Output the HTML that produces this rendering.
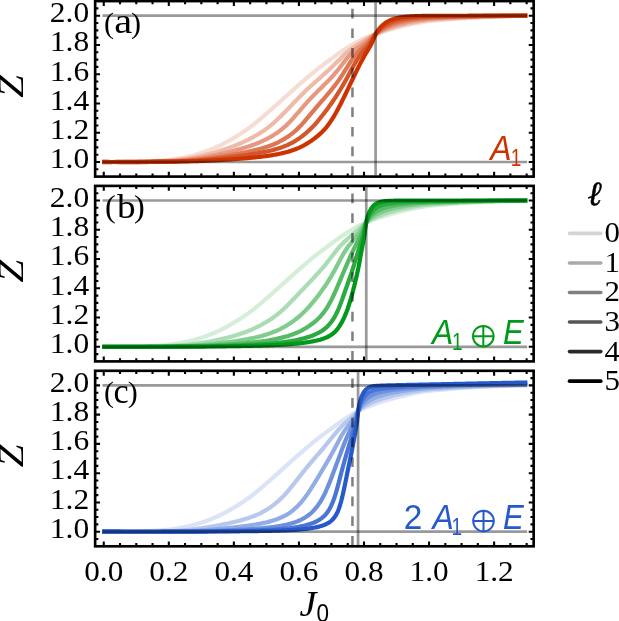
<!DOCTYPE html>
<html lang="en"><head><meta charset="utf-8"><title>Z vs J0</title>
<style>
html,body{margin:0;padding:0;background:#fff}
body{width:619px;height:621px;overflow:hidden}
svg{display:block}
text{font-family:"Liberation Serif",serif}
.tk{font-size:29.7px}
.ax{font-size:36.3px;font-style:italic}
.sub0{font-family:"Liberation Sans",sans-serif;font-size:25px}
.pl{}
.si{font-family:"Liberation Sans",sans-serif;font-style:italic;font-size:35.2px}
.sr{font-family:"Liberation Sans",sans-serif;font-size:35.2px}
.ss{font-family:"Liberation Sans",sans-serif;font-size:23px}
.ell{font-size:34px;font-style:italic;stroke:#000;stroke-width:0.5px}
</style></head>
<body>
<svg width="619" height="621" viewBox="0 0 619 621">
<rect width="619" height="621" fill="#fff"/>
<g id="panel-a">
<path d="M102.25,162.00 L103.75,162.00 L104.81,162.00 L105.87,162.00 L106.93,162.00 L107.99,162.00 L109.05,161.99 L110.11,161.99 L111.17,161.99 L112.23,161.99 L113.29,161.98 L114.35,161.98 L115.41,161.97 L116.47,161.97 L117.53,161.97 L118.59,161.96 L119.65,161.96 L120.71,161.95 L121.77,161.95 L122.83,161.94 L123.89,161.93 L124.95,161.92 L126.01,161.92 L127.07,161.90 L128.13,161.89 L129.19,161.88 L130.25,161.87 L131.31,161.85 L132.37,161.84 L133.43,161.83 L134.49,161.81 L135.55,161.79 L136.61,161.77 L137.67,161.75 L138.73,161.73 L139.79,161.70 L140.85,161.67 L141.91,161.64 L142.97,161.61 L144.03,161.57 L145.09,161.53 L146.14,161.49 L147.20,161.44 L148.26,161.40 L149.32,161.35 L150.38,161.30 L151.44,161.25 L152.50,161.20 L153.56,161.14 L154.62,161.08 L155.68,161.02 L156.74,160.95 L157.80,160.87 L158.86,160.80 L159.92,160.71 L160.98,160.63 L162.04,160.54 L163.10,160.44 L164.16,160.35 L165.22,160.25 L166.28,160.14 L167.34,160.03 L168.40,159.92 L169.46,159.81 L170.52,159.68 L171.58,159.55 L172.64,159.41 L173.70,159.27 L174.76,159.11 L175.82,158.95 L176.88,158.78 L177.94,158.61 L179.00,158.43 L180.06,158.24 L181.12,158.05 L182.18,157.85 L183.24,157.65 L184.30,157.44 L185.36,157.23 L186.42,157.01 L187.48,156.78 L188.54,156.53 L189.60,156.28 L190.66,156.02 L191.72,155.74 L192.78,155.46 L193.84,155.17 L194.90,154.87 L195.96,154.56 L197.02,154.25 L198.08,153.93 L199.14,153.61 L200.20,153.28 L201.26,152.94 L202.32,152.60 L203.38,152.24 L204.44,151.88 L205.50,151.51 L206.56,151.12 L207.62,150.72 L208.68,150.32 L209.74,149.90 L210.80,149.48 L211.86,149.05 L212.92,148.61 L213.98,148.16 L215.04,147.70 L216.10,147.24 L217.16,146.77 L218.22,146.29 L219.28,145.79 L220.34,145.29 L221.40,144.77 L222.46,144.23 L223.52,143.69 L224.58,143.13 L225.64,142.56 L226.70,141.99 L227.76,141.40 L228.82,140.81 L229.88,140.21 L230.93,139.60 L231.99,138.99 L233.05,138.37 L234.11,137.75 L235.17,137.11 L236.23,136.47 L237.29,135.83 L238.35,135.17 L239.41,134.50 L240.47,133.82 L241.53,133.13 L242.59,132.44 L243.65,131.73 L244.71,131.01 L245.77,130.29 L246.83,129.55 L247.89,128.80 L248.95,128.04 L250.01,127.27 L251.07,126.48 L252.13,125.68 L253.19,124.85 L254.25,124.01 L255.31,123.16 L256.37,122.29 L257.43,121.41 L258.49,120.51 L259.55,119.61 L260.61,118.71 L261.67,117.80 L262.73,116.88 L263.79,115.97 L264.85,115.05 L265.91,114.14 L266.97,113.23 L268.03,112.31 L269.09,111.39 L270.15,110.46 L271.21,109.52 L272.27,108.58 L273.33,107.63 L274.39,106.68 L275.45,105.73 L276.51,104.77 L277.57,103.82 L278.63,102.87 L279.69,101.91 L280.75,100.96 L281.81,100.01 L282.87,99.07 L283.93,98.13 L284.99,97.18 L286.05,96.23 L287.11,95.28 L288.17,94.33 L289.23,93.38 L290.29,92.43 L291.35,91.48 L292.41,90.53 L293.47,89.59 L294.53,88.65 L295.59,87.71 L296.65,86.78 L297.71,85.85 L298.77,84.92 L299.83,84.00 L300.89,83.08 L301.95,82.16 L303.01,81.24 L304.07,80.33 L305.13,79.41 L306.19,78.50 L307.25,77.59 L308.31,76.69 L309.37,75.79 L310.43,74.90 L311.49,74.02 L312.55,73.15 L313.61,72.28 L314.67,71.43 L315.72,70.58 L316.78,69.74 L317.84,68.91 L318.90,68.09 L319.96,67.28 L321.02,66.47 L322.08,65.66 L323.14,64.87 L324.20,64.07 L325.26,63.28 L326.32,62.50 L327.38,61.72 L328.44,60.95 L329.50,60.17 L330.56,59.41 L331.62,58.64 L332.68,57.87 L333.74,57.10 L334.80,56.33 L335.86,55.56 L336.92,54.79 L337.98,54.03 L339.04,53.27 L340.10,52.52 L341.16,51.78 L342.22,51.04 L343.28,50.32 L344.34,49.61 L345.40,48.91 L346.46,48.24 L347.52,47.57 L348.58,46.92 L349.64,46.28 L350.70,45.64 L351.76,45.00 L352.82,44.38 L353.88,43.76 L354.94,43.15 L356.00,42.56 L357.06,41.97 L358.12,41.40 L359.18,40.84 L360.24,40.30 L361.30,39.77 L362.36,39.27 L363.42,38.78 L364.48,38.31 L365.54,37.85 L366.60,37.41 L367.66,36.98 L368.72,36.57 L369.78,36.16 L370.84,35.76 L371.90,35.37 L372.96,34.99 L374.02,34.62 L375.08,34.25 L376.14,33.89 L377.20,33.53 L378.26,33.18 L379.32,32.83 L380.38,32.48 L381.44,32.14 L382.50,31.80 L383.56,31.47 L384.62,31.14 L385.68,30.82 L386.74,30.50 L387.80,30.19 L388.86,29.88 L389.92,29.58 L390.98,29.28 L392.04,28.98 L393.10,28.69 L394.16,28.40 L395.22,28.12 L396.28,27.83 L397.34,27.56 L398.40,27.28 L399.46,27.01 L400.51,26.73 L401.57,26.46 L402.63,26.20 L403.69,25.94 L404.75,25.68 L405.81,25.42 L406.87,25.17 L407.93,24.93 L408.99,24.69 L410.05,24.46 L411.11,24.23 L412.17,24.02 L413.23,23.80 L414.29,23.59 L415.35,23.38 L416.41,23.18 L417.47,22.97 L418.53,22.77 L419.59,22.58 L420.65,22.38 L421.71,22.20 L422.77,22.02 L423.83,21.85 L424.89,21.68 L425.95,21.52 L427.01,21.37 L428.07,21.23 L429.13,21.10 L430.19,20.98 L431.25,20.87 L432.31,20.76 L433.37,20.65 L434.43,20.55 L435.49,20.46 L436.55,20.36 L437.61,20.27 L438.67,20.19 L439.73,20.10 L440.79,20.01 L441.85,19.93 L442.91,19.85 L443.97,19.76 L445.03,19.67 L446.09,19.59 L447.15,19.50 L448.21,19.41 L449.27,19.33 L450.33,19.24 L451.39,19.16 L452.45,19.07 L453.51,18.99 L454.57,18.91 L455.63,18.83 L456.69,18.75 L457.75,18.67 L458.81,18.60 L459.87,18.52 L460.93,18.45 L461.99,18.38 L463.05,18.31 L464.11,18.24 L465.17,18.18 L466.23,18.11 L467.29,18.04 L468.35,17.98 L469.41,17.92 L470.47,17.86 L471.53,17.80 L472.59,17.74 L473.65,17.68 L474.71,17.62 L475.77,17.56 L476.83,17.51 L477.89,17.45 L478.95,17.40 L480.01,17.35 L481.07,17.30 L482.13,17.25 L483.19,17.20 L484.25,17.15 L485.30,17.10 L486.36,17.05 L487.42,17.00 L488.48,16.96 L489.54,16.91 L490.60,16.87 L491.66,16.82 L492.72,16.78 L493.78,16.74 L494.84,16.69 L495.90,16.65 L496.96,16.61 L498.02,16.57 L499.08,16.53 L500.14,16.49 L501.20,16.45 L502.26,16.41 L503.32,16.37 L504.38,16.33 L505.44,16.29 L506.50,16.26 L507.56,16.22 L508.62,16.19 L509.68,16.16 L510.74,16.13 L511.80,16.10 L512.86,16.07 L513.92,16.04 L514.98,16.00 L516.04,15.97 L517.10,15.94 L518.16,15.91 L519.22,15.89 L520.28,15.86 L521.34,15.84 L522.40,15.82 L523.46,15.80 L524.52,15.79 L525.58,15.78 L526.64,15.77 L527.24,15.77" fill="none" stroke="#f6ddd4" stroke-width="4.2" stroke-linecap="butt" stroke-linejoin="round"/>
<path d="M102.25,161.96 L103.75,161.96 L104.81,161.97 L105.87,161.97 L106.93,161.97 L107.99,161.98 L109.05,161.98 L110.11,161.98 L111.17,161.98 L112.23,161.98 L113.29,161.98 L114.35,161.98 L115.41,161.98 L116.47,161.98 L117.53,161.98 L118.59,161.98 L119.65,161.98 L120.71,161.98 L121.77,161.98 L122.83,161.98 L123.89,161.97 L124.95,161.97 L126.01,161.97 L127.07,161.96 L128.13,161.96 L129.19,161.95 L130.25,161.95 L131.31,161.94 L132.37,161.93 L133.43,161.92 L134.49,161.91 L135.55,161.90 L136.61,161.89 L137.67,161.88 L138.73,161.87 L139.79,161.85 L140.85,161.84 L141.91,161.82 L142.97,161.81 L144.03,161.79 L145.09,161.77 L146.14,161.74 L147.20,161.71 L148.26,161.68 L149.32,161.65 L150.38,161.62 L151.44,161.58 L152.50,161.54 L153.56,161.50 L154.62,161.46 L155.68,161.42 L156.74,161.37 L157.80,161.33 L158.86,161.28 L159.92,161.23 L160.98,161.18 L162.04,161.12 L163.10,161.06 L164.16,160.99 L165.22,160.92 L166.28,160.85 L167.34,160.77 L168.40,160.69 L169.46,160.61 L170.52,160.52 L171.58,160.43 L172.64,160.33 L173.70,160.24 L174.76,160.14 L175.82,160.03 L176.88,159.93 L177.94,159.82 L179.00,159.70 L180.06,159.57 L181.12,159.44 L182.18,159.30 L183.24,159.16 L184.30,159.01 L185.36,158.85 L186.42,158.69 L187.48,158.53 L188.54,158.35 L189.60,158.18 L190.66,158.00 L191.72,157.82 L192.78,157.63 L193.84,157.44 L194.90,157.25 L195.96,157.05 L197.02,156.84 L198.08,156.62 L199.14,156.39 L200.20,156.16 L201.26,155.92 L202.32,155.67 L203.38,155.42 L204.44,155.16 L205.50,154.90 L206.56,154.63 L207.62,154.36 L208.68,154.09 L209.74,153.81 L210.80,153.53 L211.86,153.24 L212.92,152.96 L213.98,152.66 L215.04,152.37 L216.10,152.06 L217.16,151.75 L218.22,151.43 L219.28,151.11 L220.34,150.77 L221.40,150.44 L222.46,150.09 L223.52,149.75 L224.58,149.39 L225.64,149.03 L226.70,148.66 L227.76,148.29 L228.82,147.92 L229.88,147.54 L230.93,147.15 L231.99,146.76 L233.05,146.36 L234.11,145.95 L235.17,145.54 L236.23,145.11 L237.29,144.67 L238.35,144.22 L239.41,143.77 L240.47,143.30 L241.53,142.83 L242.59,142.34 L243.65,141.85 L244.71,141.35 L245.77,140.84 L246.83,140.32 L247.89,139.80 L248.95,139.26 L250.01,138.72 L251.07,138.17 L252.13,137.62 L253.19,137.05 L254.25,136.47 L255.31,135.88 L256.37,135.28 L257.43,134.66 L258.49,134.03 L259.55,133.38 L260.61,132.72 L261.67,132.05 L262.73,131.35 L263.79,130.64 L264.85,129.91 L265.91,129.16 L266.97,128.39 L268.03,127.60 L269.09,126.79 L270.15,125.95 L271.21,125.08 L272.27,124.18 L273.33,123.25 L274.39,122.30 L275.45,121.32 L276.51,120.33 L277.57,119.32 L278.63,118.29 L279.69,117.26 L280.75,116.21 L281.81,115.16 L282.87,114.11 L283.93,113.06 L284.99,111.99 L286.05,110.91 L287.11,109.82 L288.17,108.72 L289.23,107.61 L290.29,106.50 L291.35,105.39 L292.41,104.28 L293.47,103.16 L294.53,102.06 L295.59,100.95 L296.65,99.86 L297.71,98.77 L298.77,97.69 L299.83,96.62 L300.89,95.54 L301.95,94.48 L303.01,93.42 L304.07,92.38 L305.13,91.35 L306.19,90.33 L307.25,89.32 L308.31,88.33 L309.37,87.35 L310.43,86.39 L311.49,85.43 L312.55,84.49 L313.61,83.54 L314.67,82.60 L315.72,81.66 L316.78,80.73 L317.84,79.79 L318.90,78.84 L319.96,77.90 L321.02,76.95 L322.08,76.01 L323.14,75.05 L324.20,74.10 L325.26,73.14 L326.32,72.17 L327.38,71.20 L328.44,70.23 L329.50,69.25 L330.56,68.25 L331.62,67.25 L332.68,66.23 L333.74,65.20 L334.80,64.16 L335.86,63.11 L336.92,62.07 L337.98,61.02 L339.04,59.97 L340.10,58.93 L341.16,57.89 L342.22,56.85 L343.28,55.82 L344.34,54.81 L345.40,53.81 L346.46,52.85 L347.52,51.91 L348.58,51.02 L349.64,50.16 L350.70,49.34 L351.76,48.56 L352.82,47.81 L353.88,47.09 L354.94,46.38 L356.00,45.68 L357.06,44.99 L358.12,44.30 L359.18,43.62 L360.24,42.94 L361.30,42.27 L362.36,41.60 L363.42,40.93 L364.48,40.27 L365.54,39.61 L366.60,38.97 L367.66,38.34 L368.72,37.73 L369.78,37.14 L370.84,36.55 L371.90,35.99 L372.96,35.43 L374.02,34.88 L375.08,34.35 L376.14,33.82 L377.20,33.33 L378.26,32.86 L379.32,32.40 L380.38,31.95 L381.44,31.51 L382.50,31.08 L383.56,30.67 L384.62,30.27 L385.68,29.87 L386.74,29.49 L387.80,29.12 L388.86,28.76 L389.92,28.41 L390.98,28.06 L392.04,27.73 L393.10,27.40 L394.16,27.08 L395.22,26.77 L396.28,26.47 L397.34,26.17 L398.40,25.88 L399.46,25.59 L400.51,25.31 L401.57,25.04 L402.63,24.77 L403.69,24.51 L404.75,24.25 L405.81,24.00 L406.87,23.76 L407.93,23.52 L408.99,23.29 L410.05,23.07 L411.11,22.85 L412.17,22.65 L413.23,22.45 L414.29,22.25 L415.35,22.06 L416.41,21.87 L417.47,21.68 L418.53,21.50 L419.59,21.32 L420.65,21.15 L421.71,20.99 L422.77,20.83 L423.83,20.67 L424.89,20.53 L425.95,20.39 L427.01,20.26 L428.07,20.14 L429.13,20.02 L430.19,19.92 L431.25,19.82 L432.31,19.72 L433.37,19.63 L434.43,19.54 L435.49,19.46 L436.55,19.38 L437.61,19.30 L438.67,19.23 L439.73,19.15 L440.79,19.08 L441.85,19.01 L442.91,18.94 L443.97,18.87 L445.03,18.79 L446.09,18.72 L447.15,18.65 L448.21,18.58 L449.27,18.51 L450.33,18.44 L451.39,18.37 L452.45,18.30 L453.51,18.24 L454.57,18.17 L455.63,18.11 L456.69,18.04 L457.75,17.98 L458.81,17.92 L459.87,17.86 L460.93,17.80 L461.99,17.75 L463.05,17.69 L464.11,17.64 L465.17,17.59 L466.23,17.54 L467.29,17.48 L468.35,17.43 L469.41,17.39 L470.47,17.34 L471.53,17.29 L472.59,17.24 L473.65,17.20 L474.71,17.15 L475.77,17.11 L476.83,17.07 L477.89,17.03 L478.95,16.98 L480.01,16.94 L481.07,16.90 L482.13,16.87 L483.19,16.83 L484.25,16.79 L485.30,16.75 L486.36,16.72 L487.42,16.68 L488.48,16.65 L489.54,16.61 L490.60,16.58 L491.66,16.54 L492.72,16.51 L493.78,16.48 L494.84,16.45 L495.90,16.41 L496.96,16.38 L498.02,16.35 L499.08,16.32 L500.14,16.29 L501.20,16.26 L502.26,16.23 L503.32,16.20 L504.38,16.17 L505.44,16.14 L506.50,16.12 L507.56,16.09 L508.62,16.07 L509.68,16.04 L510.74,16.02 L511.80,16.00 L512.86,15.97 L513.92,15.95 L514.98,15.93 L516.04,15.90 L517.10,15.88 L518.16,15.86 L519.22,15.84 L520.28,15.82 L521.34,15.80 L522.40,15.79 L523.46,15.78 L524.52,15.77 L525.58,15.76 L526.64,15.75 L527.24,15.75" fill="none" stroke="#eebbaa" stroke-width="4.2" stroke-linecap="butt" stroke-linejoin="round"/>
<path d="M102.25,161.92 L103.75,161.92 L104.81,161.93 L105.87,161.94 L106.93,161.95 L107.99,161.96 L109.05,161.98 L110.11,161.99 L111.17,162.00 L112.23,162.00 L113.29,162.01 L114.35,162.02 L115.41,162.03 L116.47,162.03 L117.53,162.04 L118.59,162.05 L119.65,162.05 L120.71,162.06 L121.77,162.06 L122.83,162.06 L123.89,162.07 L124.95,162.07 L126.01,162.07 L127.07,162.07 L128.13,162.07 L129.19,162.07 L130.25,162.07 L131.31,162.07 L132.37,162.07 L133.43,162.07 L134.49,162.06 L135.55,162.06 L136.61,162.05 L137.67,162.04 L138.73,162.03 L139.79,162.03 L140.85,162.02 L141.91,162.01 L142.97,161.99 L144.03,161.98 L145.09,161.97 L146.14,161.95 L147.20,161.94 L148.26,161.92 L149.32,161.91 L150.38,161.88 L151.44,161.86 L152.50,161.84 L153.56,161.81 L154.62,161.78 L155.68,161.74 L156.74,161.71 L157.80,161.67 L158.86,161.63 L159.92,161.59 L160.98,161.55 L162.04,161.50 L163.10,161.46 L164.16,161.41 L165.22,161.36 L166.28,161.31 L167.34,161.26 L168.40,161.20 L169.46,161.14 L170.52,161.08 L171.58,161.01 L172.64,160.94 L173.70,160.87 L174.76,160.79 L175.82,160.71 L176.88,160.63 L177.94,160.54 L179.00,160.45 L180.06,160.36 L181.12,160.26 L182.18,160.16 L183.24,160.06 L184.30,159.96 L185.36,159.85 L186.42,159.75 L187.48,159.63 L188.54,159.51 L189.60,159.38 L190.66,159.25 L191.72,159.11 L192.78,158.97 L193.84,158.82 L194.90,158.67 L195.96,158.52 L197.02,158.36 L198.08,158.20 L199.14,158.03 L200.20,157.87 L201.26,157.70 L202.32,157.53 L203.38,157.35 L204.44,157.17 L205.50,157.00 L206.56,156.81 L207.62,156.62 L208.68,156.43 L209.74,156.23 L210.80,156.02 L211.86,155.81 L212.92,155.60 L213.98,155.38 L215.04,155.16 L216.10,154.93 L217.16,154.70 L218.22,154.47 L219.28,154.24 L220.34,154.00 L221.40,153.76 L222.46,153.52 L223.52,153.28 L224.58,153.04 L225.64,152.79 L226.70,152.55 L227.76,152.30 L228.82,152.05 L229.88,151.79 L230.93,151.52 L231.99,151.26 L233.05,150.98 L234.11,150.71 L235.17,150.43 L236.23,150.14 L237.29,149.85 L238.35,149.55 L239.41,149.25 L240.47,148.95 L241.53,148.64 L242.59,148.32 L243.65,148.00 L244.71,147.68 L245.77,147.35 L246.83,147.01 L247.89,146.67 L248.95,146.32 L250.01,145.97 L251.07,145.61 L252.13,145.24 L253.19,144.85 L254.25,144.46 L255.31,144.05 L256.37,143.64 L257.43,143.21 L258.49,142.77 L259.55,142.32 L260.61,141.86 L261.67,141.38 L262.73,140.89 L263.79,140.39 L264.85,139.87 L265.91,139.34 L266.97,138.79 L268.03,138.24 L269.09,137.66 L270.15,137.07 L271.21,136.47 L272.27,135.84 L273.33,135.20 L274.39,134.54 L275.45,133.85 L276.51,133.14 L277.57,132.41 L278.63,131.66 L279.69,130.88 L280.75,130.07 L281.81,129.24 L282.87,128.37 L283.93,127.48 L284.99,126.56 L286.05,125.60 L287.11,124.60 L288.17,123.55 L289.23,122.47 L290.29,121.36 L291.35,120.21 L292.41,119.05 L293.47,117.86 L294.53,116.66 L295.59,115.45 L296.65,114.23 L297.71,113.03 L298.77,111.82 L299.83,110.60 L300.89,109.37 L301.95,108.15 L303.01,106.92 L304.07,105.70 L305.13,104.49 L306.19,103.30 L307.25,102.12 L308.31,100.95 L309.37,99.81 L310.43,98.68 L311.49,97.56 L312.55,96.46 L313.61,95.36 L314.67,94.28 L315.72,93.20 L316.78,92.13 L317.84,91.07 L318.90,90.01 L319.96,88.97 L321.02,87.93 L322.08,86.90 L323.14,85.87 L324.20,84.84 L325.26,83.81 L326.32,82.77 L327.38,81.71 L328.44,80.63 L329.50,79.53 L330.56,78.40 L331.62,77.25 L332.68,76.07 L333.74,74.85 L334.80,73.61 L335.86,72.35 L336.92,71.07 L337.98,69.77 L339.04,68.44 L340.10,67.10 L341.16,65.73 L342.22,64.36 L343.28,62.97 L344.34,61.60 L345.40,60.25 L346.46,58.92 L347.52,57.64 L348.58,56.38 L349.64,55.17 L350.70,54.01 L351.76,52.90 L352.82,51.85 L353.88,50.86 L354.94,49.93 L356.00,49.04 L357.06,48.20 L358.12,47.39 L359.18,46.61 L360.24,45.84 L361.30,45.06 L362.36,44.28 L363.42,43.49 L364.48,42.68 L365.54,41.85 L366.60,41.00 L367.66,40.14 L368.72,39.28 L369.78,38.42 L370.84,37.59 L371.90,36.78 L372.96,35.98 L374.02,35.20 L375.08,34.45 L376.14,33.73 L377.20,33.06 L378.26,32.43 L379.32,31.82 L380.38,31.23 L381.44,30.67 L382.50,30.13 L383.56,29.62 L384.62,29.12 L385.68,28.65 L386.74,28.19 L387.80,27.75 L388.86,27.33 L389.92,26.93 L390.98,26.54 L392.04,26.17 L393.10,25.81 L394.16,25.47 L395.22,25.13 L396.28,24.81 L397.34,24.50 L398.40,24.20 L399.46,23.91 L400.51,23.63 L401.57,23.36 L402.63,23.10 L403.69,22.84 L404.75,22.60 L405.81,22.36 L406.87,22.13 L407.93,21.91 L408.99,21.70 L410.05,21.50 L411.11,21.30 L412.17,21.12 L413.23,20.94 L414.29,20.77 L415.35,20.60 L416.41,20.44 L417.47,20.28 L418.53,20.12 L419.59,19.97 L420.65,19.83 L421.71,19.69 L422.77,19.56 L423.83,19.43 L424.89,19.31 L425.95,19.20 L427.01,19.09 L428.07,18.99 L429.13,18.90 L430.19,18.81 L431.25,18.73 L432.31,18.66 L433.37,18.58 L434.43,18.51 L435.49,18.45 L436.55,18.38 L437.61,18.32 L438.67,18.26 L439.73,18.21 L440.79,18.15 L441.85,18.09 L442.91,18.04 L443.97,17.98 L445.03,17.93 L446.09,17.87 L447.15,17.82 L448.21,17.77 L449.27,17.71 L450.33,17.66 L451.39,17.61 L452.45,17.56 L453.51,17.51 L454.57,17.46 L455.63,17.42 L456.69,17.37 L457.75,17.32 L458.81,17.28 L459.87,17.24 L460.93,17.19 L461.99,17.15 L463.05,17.11 L464.11,17.08 L465.17,17.04 L466.23,17.00 L467.29,16.96 L468.35,16.93 L469.41,16.89 L470.47,16.86 L471.53,16.82 L472.59,16.79 L473.65,16.76 L474.71,16.73 L475.77,16.69 L476.83,16.66 L477.89,16.63 L478.95,16.61 L480.01,16.58 L481.07,16.55 L482.13,16.52 L483.19,16.49 L484.25,16.47 L485.30,16.44 L486.36,16.42 L487.42,16.39 L488.48,16.37 L489.54,16.34 L490.60,16.32 L491.66,16.29 L492.72,16.27 L493.78,16.25 L494.84,16.22 L495.90,16.20 L496.96,16.18 L498.02,16.16 L499.08,16.13 L500.14,16.11 L501.20,16.09 L502.26,16.07 L503.32,16.05 L504.38,16.03 L505.44,16.01 L506.50,15.99 L507.56,15.97 L508.62,15.96 L509.68,15.94 L510.74,15.92 L511.80,15.91 L512.86,15.89 L513.92,15.88 L514.98,15.86 L516.04,15.84 L517.10,15.83 L518.16,15.81 L519.22,15.80 L520.28,15.78 L521.34,15.77 L522.40,15.76 L523.46,15.75 L524.52,15.75 L525.58,15.74 L526.64,15.74 L527.24,15.74" fill="none" stroke="#e69980" stroke-width="4.2" stroke-linecap="butt" stroke-linejoin="round"/>
<path d="M102.25,161.99 L103.75,161.99 L104.81,161.99 L105.87,162.00 L106.93,162.00 L107.99,162.00 L109.05,162.00 L110.11,162.01 L111.17,162.01 L112.23,162.01 L113.29,162.01 L114.35,162.01 L115.41,162.01 L116.47,162.01 L117.53,162.01 L118.59,162.02 L119.65,162.01 L120.71,162.01 L121.77,162.01 L122.83,162.01 L123.89,162.01 L124.95,162.01 L126.01,162.01 L127.07,162.01 L128.13,162.01 L129.19,162.00 L130.25,162.00 L131.31,162.00 L132.37,162.00 L133.43,161.99 L134.49,161.99 L135.55,161.98 L136.61,161.98 L137.67,161.97 L138.73,161.97 L139.79,161.96 L140.85,161.95 L141.91,161.94 L142.97,161.93 L144.03,161.92 L145.09,161.92 L146.14,161.90 L147.20,161.89 L148.26,161.88 L149.32,161.87 L150.38,161.86 L151.44,161.84 L152.50,161.83 L153.56,161.81 L154.62,161.80 L155.68,161.78 L156.74,161.76 L157.80,161.74 L158.86,161.72 L159.92,161.69 L160.98,161.66 L162.04,161.64 L163.10,161.60 L164.16,161.57 L165.22,161.54 L166.28,161.50 L167.34,161.46 L168.40,161.43 L169.46,161.38 L170.52,161.34 L171.58,161.30 L172.64,161.26 L173.70,161.21 L174.76,161.17 L175.82,161.12 L176.88,161.07 L177.94,161.01 L179.00,160.95 L180.06,160.89 L181.12,160.83 L182.18,160.76 L183.24,160.69 L184.30,160.62 L185.36,160.55 L186.42,160.47 L187.48,160.39 L188.54,160.31 L189.60,160.23 L190.66,160.14 L191.72,160.05 L192.78,159.96 L193.84,159.87 L194.90,159.78 L195.96,159.69 L197.02,159.59 L198.08,159.48 L199.14,159.37 L200.20,159.26 L201.26,159.14 L202.32,159.03 L203.38,158.90 L204.44,158.78 L205.50,158.65 L206.56,158.52 L207.62,158.39 L208.68,158.25 L209.74,158.12 L210.80,157.98 L211.86,157.84 L212.92,157.70 L213.98,157.56 L215.04,157.42 L216.10,157.27 L217.16,157.13 L218.22,156.98 L219.28,156.83 L220.34,156.68 L221.40,156.52 L222.46,156.36 L223.52,156.20 L224.58,156.03 L225.64,155.86 L226.70,155.69 L227.76,155.51 L228.82,155.33 L229.88,155.15 L230.93,154.97 L231.99,154.79 L233.05,154.60 L234.11,154.41 L235.17,154.23 L236.23,154.03 L237.29,153.84 L238.35,153.64 L239.41,153.45 L240.47,153.25 L241.53,153.05 L242.59,152.85 L243.65,152.64 L244.71,152.44 L245.77,152.22 L246.83,152.01 L247.89,151.79 L248.95,151.56 L250.01,151.33 L251.07,151.09 L252.13,150.85 L253.19,150.61 L254.25,150.36 L255.31,150.10 L256.37,149.83 L257.43,149.56 L258.49,149.29 L259.55,149.00 L260.61,148.71 L261.67,148.41 L262.73,148.10 L263.79,147.79 L264.85,147.46 L265.91,147.13 L266.97,146.79 L268.03,146.43 L269.09,146.07 L270.15,145.69 L271.21,145.29 L272.27,144.88 L273.33,144.45 L274.39,144.01 L275.45,143.54 L276.51,143.06 L277.57,142.56 L278.63,142.04 L279.69,141.50 L280.75,140.94 L281.81,140.36 L282.87,139.76 L283.93,139.13 L284.99,138.49 L286.05,137.82 L287.11,137.13 L288.17,136.42 L289.23,135.68 L290.29,134.91 L291.35,134.11 L292.41,133.28 L293.47,132.42 L294.53,131.53 L295.59,130.60 L296.65,129.64 L297.71,128.65 L298.77,127.62 L299.83,126.56 L300.89,125.46 L301.95,124.31 L303.01,123.12 L304.07,121.90 L305.13,120.66 L306.19,119.41 L307.25,118.14 L308.31,116.88 L309.37,115.62 L310.43,114.36 L311.49,113.12 L312.55,111.88 L313.61,110.63 L314.67,109.38 L315.72,108.13 L316.78,106.88 L317.84,105.64 L318.90,104.40 L319.96,103.17 L321.02,101.94 L322.08,100.73 L323.14,99.51 L324.20,98.31 L325.26,97.09 L326.32,95.87 L327.38,94.64 L328.44,93.39 L329.50,92.13 L330.56,90.86 L331.62,89.57 L332.68,88.26 L333.74,86.93 L334.80,85.57 L335.86,84.20 L336.92,82.79 L337.98,81.34 L339.04,79.84 L340.10,78.29 L341.16,76.69 L342.22,75.04 L343.28,73.36 L344.34,71.66 L345.40,69.95 L346.46,68.23 L347.52,66.52 L348.58,64.83 L349.64,63.18 L350.70,61.58 L351.76,60.04 L352.82,58.56 L353.88,57.15 L354.94,55.79 L356.00,54.50 L357.06,53.27 L358.12,52.11 L359.18,51.01 L360.24,49.96 L361.30,48.95 L362.36,47.98 L363.42,47.03 L364.48,46.06 L365.54,45.06 L366.60,44.02 L367.66,42.94 L368.72,41.79 L369.78,40.59 L370.84,39.36 L371.90,38.14 L372.96,36.93 L374.02,35.76 L375.08,34.62 L376.14,33.59 L377.20,32.69 L378.26,31.84 L379.32,31.04 L380.38,30.28 L381.44,29.57 L382.50,28.89 L383.56,28.26 L384.62,27.66 L385.68,27.09 L386.74,26.56 L387.80,26.06 L388.86,25.58 L389.92,25.13 L390.98,24.71 L392.04,24.30 L393.10,23.92 L394.16,23.56 L395.22,23.22 L396.28,22.89 L397.34,22.58 L398.40,22.29 L399.46,22.01 L400.51,21.74 L401.57,21.49 L402.63,21.25 L403.69,21.01 L404.75,20.79 L405.81,20.59 L406.87,20.39 L407.93,20.20 L408.99,20.02 L410.05,19.85 L411.11,19.69 L412.17,19.53 L413.23,19.39 L414.29,19.25 L415.35,19.11 L416.41,18.98 L417.47,18.86 L418.53,18.74 L419.59,18.63 L420.65,18.52 L421.71,18.41 L422.77,18.32 L423.83,18.22 L424.89,18.13 L425.95,18.05 L427.01,17.97 L428.07,17.90 L429.13,17.83 L430.19,17.77 L431.25,17.71 L432.31,17.66 L433.37,17.61 L434.43,17.56 L435.49,17.51 L436.55,17.47 L437.61,17.42 L438.67,17.38 L439.73,17.34 L440.79,17.31 L441.85,17.27 L442.91,17.23 L443.97,17.19 L445.03,17.16 L446.09,17.12 L447.15,17.08 L448.21,17.05 L449.27,17.01 L450.33,16.98 L451.39,16.94 L452.45,16.91 L453.51,16.88 L454.57,16.85 L455.63,16.81 L456.69,16.78 L457.75,16.75 L458.81,16.73 L459.87,16.70 L460.93,16.67 L461.99,16.64 L463.05,16.62 L464.11,16.59 L465.17,16.57 L466.23,16.54 L467.29,16.52 L468.35,16.50 L469.41,16.47 L470.47,16.45 L471.53,16.43 L472.59,16.41 L473.65,16.39 L474.71,16.37 L475.77,16.35 L476.83,16.33 L477.89,16.31 L478.95,16.29 L480.01,16.27 L481.07,16.25 L482.13,16.23 L483.19,16.22 L484.25,16.20 L485.30,16.18 L486.36,16.16 L487.42,16.15 L488.48,16.13 L489.54,16.12 L490.60,16.10 L491.66,16.09 L492.72,16.07 L493.78,16.06 L494.84,16.04 L495.90,16.03 L496.96,16.01 L498.02,16.00 L499.08,15.98 L500.14,15.97 L501.20,15.95 L502.26,15.94 L503.32,15.93 L504.38,15.91 L505.44,15.90 L506.50,15.89 L507.56,15.88 L508.62,15.87 L509.68,15.86 L510.74,15.85 L511.80,15.84 L512.86,15.83 L513.92,15.81 L514.98,15.80 L516.04,15.79 L517.10,15.78 L518.16,15.77 L519.22,15.76 L520.28,15.76 L521.34,15.75 L522.40,15.74 L523.46,15.73 L524.52,15.73 L525.58,15.73 L526.64,15.72 L527.24,15.72" fill="none" stroke="#dd7755" stroke-width="4.2" stroke-linecap="butt" stroke-linejoin="round"/>
<path d="M102.25,161.92 L103.75,161.92 L104.81,161.93 L105.87,161.94 L106.93,161.95 L107.99,161.96 L109.05,161.97 L110.11,161.98 L111.17,161.98 L112.23,161.99 L113.29,162.00 L114.35,162.01 L115.41,162.01 L116.47,162.02 L117.53,162.02 L118.59,162.03 L119.65,162.03 L120.71,162.04 L121.77,162.04 L122.83,162.05 L123.89,162.05 L124.95,162.05 L126.01,162.06 L127.07,162.06 L128.13,162.06 L129.19,162.06 L130.25,162.07 L131.31,162.07 L132.37,162.07 L133.43,162.07 L134.49,162.07 L135.55,162.07 L136.61,162.07 L137.67,162.07 L138.73,162.06 L139.79,162.06 L140.85,162.06 L141.91,162.06 L142.97,162.05 L144.03,162.05 L145.09,162.04 L146.14,162.04 L147.20,162.03 L148.26,162.02 L149.32,162.02 L150.38,162.01 L151.44,162.00 L152.50,161.99 L153.56,161.98 L154.62,161.97 L155.68,161.96 L156.74,161.94 L157.80,161.93 L158.86,161.92 L159.92,161.90 L160.98,161.89 L162.04,161.87 L163.10,161.85 L164.16,161.83 L165.22,161.81 L166.28,161.79 L167.34,161.76 L168.40,161.74 L169.46,161.71 L170.52,161.68 L171.58,161.65 L172.64,161.61 L173.70,161.58 L174.76,161.54 L175.82,161.50 L176.88,161.46 L177.94,161.42 L179.00,161.38 L180.06,161.34 L181.12,161.30 L182.18,161.25 L183.24,161.21 L184.30,161.16 L185.36,161.11 L186.42,161.06 L187.48,161.00 L188.54,160.94 L189.60,160.88 L190.66,160.82 L191.72,160.76 L192.78,160.69 L193.84,160.62 L194.90,160.55 L195.96,160.48 L197.02,160.40 L198.08,160.32 L199.14,160.25 L200.20,160.17 L201.26,160.09 L202.32,160.01 L203.38,159.92 L204.44,159.84 L205.50,159.76 L206.56,159.67 L207.62,159.58 L208.68,159.49 L209.74,159.39 L210.80,159.29 L211.86,159.19 L212.92,159.09 L213.98,158.99 L215.04,158.88 L216.10,158.77 L217.16,158.66 L218.22,158.55 L219.28,158.44 L220.34,158.32 L221.40,158.21 L222.46,158.09 L223.52,157.97 L224.58,157.85 L225.64,157.73 L226.70,157.61 L227.76,157.49 L228.82,157.37 L229.88,157.25 L230.93,157.12 L231.99,157.00 L233.05,156.88 L234.11,156.75 L235.17,156.62 L236.23,156.48 L237.29,156.35 L238.35,156.21 L239.41,156.07 L240.47,155.93 L241.53,155.78 L242.59,155.63 L243.65,155.48 L244.71,155.33 L245.77,155.17 L246.83,155.01 L247.89,154.85 L248.95,154.69 L250.01,154.53 L251.07,154.36 L252.13,154.19 L253.19,154.01 L254.25,153.84 L255.31,153.66 L256.37,153.48 L257.43,153.29 L258.49,153.11 L259.55,152.91 L260.61,152.72 L261.67,152.52 L262.73,152.32 L263.79,152.11 L264.85,151.90 L265.91,151.67 L266.97,151.45 L268.03,151.21 L269.09,150.96 L270.15,150.71 L271.21,150.45 L272.27,150.18 L273.33,149.90 L274.39,149.61 L275.45,149.31 L276.51,149.00 L277.57,148.68 L278.63,148.35 L279.69,148.00 L280.75,147.64 L281.81,147.27 L282.87,146.89 L283.93,146.49 L284.99,146.08 L286.05,145.65 L287.11,145.20 L288.17,144.72 L289.23,144.22 L290.29,143.70 L291.35,143.16 L292.41,142.58 L293.47,141.99 L294.53,141.37 L295.59,140.72 L296.65,140.05 L297.71,139.36 L298.77,138.64 L299.83,137.89 L300.89,137.13 L301.95,136.34 L303.01,135.52 L304.07,134.68 L305.13,133.81 L306.19,132.92 L307.25,132.00 L308.31,131.05 L309.37,130.08 L310.43,129.07 L311.49,128.04 L312.55,126.98 L313.61,125.88 L314.67,124.73 L315.72,123.54 L316.78,122.31 L317.84,121.05 L318.90,119.76 L319.96,118.46 L321.02,117.14 L322.08,115.80 L323.14,114.46 L324.20,113.12 L325.26,111.76 L326.32,110.37 L327.38,108.96 L328.44,107.51 L329.50,106.05 L330.56,104.55 L331.62,103.04 L332.68,101.49 L333.74,99.93 L334.80,98.36 L335.86,96.75 L336.92,95.11 L337.98,93.44 L339.04,91.73 L340.10,90.00 L341.16,88.23 L342.22,86.44 L343.28,84.62 L344.34,82.77 L345.40,80.87 L346.46,78.94 L347.52,76.96 L348.58,74.96 L349.64,72.96 L350.70,70.98 L351.76,69.04 L352.82,67.12 L353.88,65.24 L354.94,63.42 L356.00,61.66 L357.06,59.97 L358.12,58.35 L359.18,56.80 L360.24,55.30 L361.30,53.87 L362.36,52.48 L363.42,51.15 L364.48,49.86 L365.54,48.61 L366.60,47.36 L367.66,46.10 L368.72,44.75 L369.78,43.29 L370.84,41.71 L371.90,40.00 L372.96,38.25 L374.02,36.52 L375.08,34.85 L376.14,33.41 L377.20,32.19 L378.26,31.06 L379.32,30.01 L380.38,29.04 L381.44,28.14 L382.50,27.31 L383.56,26.54 L384.62,25.83 L385.68,25.17 L386.74,24.56 L387.80,24.00 L388.86,23.48 L389.92,22.99 L390.98,22.54 L392.04,22.13 L393.10,21.74 L394.16,21.38 L395.22,21.05 L396.28,20.74 L397.34,20.45 L398.40,20.18 L399.46,19.93 L400.51,19.70 L401.57,19.48 L402.63,19.27 L403.69,19.08 L404.75,18.90 L405.81,18.74 L406.87,18.58 L407.93,18.44 L408.99,18.30 L410.05,18.17 L411.11,18.06 L412.17,17.95 L413.23,17.84 L414.29,17.75 L415.35,17.65 L416.41,17.57 L417.47,17.49 L418.53,17.41 L419.59,17.33 L420.65,17.26 L421.71,17.20 L422.77,17.14 L423.83,17.08 L424.89,17.03 L425.95,16.98 L427.01,16.93 L428.07,16.89 L429.13,16.85 L430.19,16.81 L431.25,16.78 L432.31,16.75 L433.37,16.72 L434.43,16.69 L435.49,16.66 L436.55,16.64 L437.61,16.61 L438.67,16.59 L439.73,16.57 L440.79,16.55 L441.85,16.52 L442.91,16.50 L443.97,16.48 L445.03,16.46 L446.09,16.44 L447.15,16.43 L448.21,16.41 L449.27,16.39 L450.33,16.37 L451.39,16.35 L452.45,16.33 L453.51,16.32 L454.57,16.30 L455.63,16.28 L456.69,16.27 L457.75,16.25 L458.81,16.24 L459.87,16.22 L460.93,16.21 L461.99,16.19 L463.05,16.18 L464.11,16.17 L465.17,16.15 L466.23,16.14 L467.29,16.13 L468.35,16.12 L469.41,16.11 L470.47,16.09 L471.53,16.08 L472.59,16.07 L473.65,16.06 L474.71,16.05 L475.77,16.04 L476.83,16.03 L477.89,16.02 L478.95,16.01 L480.01,16.00 L481.07,15.99 L482.13,15.98 L483.19,15.97 L484.25,15.96 L485.30,15.95 L486.36,15.94 L487.42,15.94 L488.48,15.93 L489.54,15.92 L490.60,15.91 L491.66,15.90 L492.72,15.90 L493.78,15.89 L494.84,15.88 L495.90,15.87 L496.96,15.86 L498.02,15.86 L499.08,15.85 L500.14,15.84 L501.20,15.83 L502.26,15.83 L503.32,15.82 L504.38,15.81 L505.44,15.81 L506.50,15.80 L507.56,15.79 L508.62,15.79 L509.68,15.78 L510.74,15.78 L511.80,15.77 L512.86,15.77 L513.92,15.76 L514.98,15.75 L516.04,15.75 L517.10,15.74 L518.16,15.74 L519.22,15.73 L520.28,15.73 L521.34,15.72 L522.40,15.72 L523.46,15.72 L524.52,15.72 L525.58,15.71 L526.64,15.71 L527.24,15.71" fill="none" stroke="#d4552a" stroke-width="4.2" stroke-linecap="butt" stroke-linejoin="round"/>
<path d="M102.25,162.14 L103.75,162.14 L104.81,162.12 L105.87,162.10 L106.93,162.09 L107.99,162.07 L109.05,162.06 L110.11,162.04 L111.17,162.03 L112.23,162.01 L113.29,162.00 L114.35,161.99 L115.41,161.97 L116.47,161.96 L117.53,161.95 L118.59,161.94 L119.65,161.92 L120.71,161.91 L121.77,161.90 L122.83,161.89 L123.89,161.88 L124.95,161.87 L126.01,161.86 L127.07,161.86 L128.13,161.85 L129.19,161.84 L130.25,161.83 L131.31,161.82 L132.37,161.82 L133.43,161.81 L134.49,161.80 L135.55,161.80 L136.61,161.79 L137.67,161.78 L138.73,161.78 L139.79,161.77 L140.85,161.77 L141.91,161.76 L142.97,161.76 L144.03,161.75 L145.09,161.75 L146.14,161.74 L147.20,161.74 L148.26,161.74 L149.32,161.73 L150.38,161.73 L151.44,161.72 L152.50,161.72 L153.56,161.71 L154.62,161.71 L155.68,161.70 L156.74,161.70 L157.80,161.69 L158.86,161.69 L159.92,161.68 L160.98,161.68 L162.04,161.67 L163.10,161.66 L164.16,161.66 L165.22,161.65 L166.28,161.65 L167.34,161.64 L168.40,161.63 L169.46,161.63 L170.52,161.62 L171.58,161.61 L172.64,161.60 L173.70,161.58 L174.76,161.57 L175.82,161.56 L176.88,161.54 L177.94,161.52 L179.00,161.50 L180.06,161.49 L181.12,161.47 L182.18,161.44 L183.24,161.42 L184.30,161.40 L185.36,161.38 L186.42,161.35 L187.48,161.33 L188.54,161.30 L189.60,161.28 L190.66,161.25 L191.72,161.22 L192.78,161.20 L193.84,161.17 L194.90,161.13 L195.96,161.10 L197.02,161.07 L198.08,161.03 L199.14,160.99 L200.20,160.95 L201.26,160.91 L202.32,160.87 L203.38,160.83 L204.44,160.78 L205.50,160.73 L206.56,160.69 L207.62,160.64 L208.68,160.59 L209.74,160.54 L210.80,160.49 L211.86,160.44 L212.92,160.39 L213.98,160.34 L215.04,160.29 L216.10,160.23 L217.16,160.18 L218.22,160.13 L219.28,160.07 L220.34,160.01 L221.40,159.95 L222.46,159.89 L223.52,159.83 L224.58,159.77 L225.64,159.70 L226.70,159.63 L227.76,159.56 L228.82,159.49 L229.88,159.42 L230.93,159.35 L231.99,159.28 L233.05,159.20 L234.11,159.13 L235.17,159.05 L236.23,158.97 L237.29,158.89 L238.35,158.81 L239.41,158.73 L240.47,158.65 L241.53,158.57 L242.59,158.49 L243.65,158.40 L244.71,158.32 L245.77,158.23 L246.83,158.14 L247.89,158.05 L248.95,157.96 L250.01,157.87 L251.07,157.78 L252.13,157.68 L253.19,157.58 L254.25,157.48 L255.31,157.37 L256.37,157.26 L257.43,157.15 L258.49,157.03 L259.55,156.91 L260.61,156.79 L261.67,156.66 L262.73,156.53 L263.79,156.39 L264.85,156.25 L265.91,156.11 L266.97,155.96 L268.03,155.81 L269.09,155.65 L270.15,155.48 L271.21,155.32 L272.27,155.14 L273.33,154.96 L274.39,154.78 L275.45,154.59 L276.51,154.39 L277.57,154.19 L278.63,153.99 L279.69,153.77 L280.75,153.55 L281.81,153.32 L282.87,153.08 L283.93,152.82 L284.99,152.56 L286.05,152.28 L287.11,151.99 L288.17,151.69 L289.23,151.37 L290.29,151.04 L291.35,150.70 L292.41,150.34 L293.47,149.97 L294.53,149.58 L295.59,149.18 L296.65,148.76 L297.71,148.32 L298.77,147.87 L299.83,147.40 L300.89,146.90 L301.95,146.38 L303.01,145.84 L304.07,145.27 L305.13,144.68 L306.19,144.06 L307.25,143.42 L308.31,142.77 L309.37,142.09 L310.43,141.38 L311.49,140.66 L312.55,139.91 L313.61,139.14 L314.67,138.34 L315.72,137.52 L316.78,136.67 L317.84,135.79 L318.90,134.87 L319.96,133.92 L321.02,132.94 L322.08,131.92 L323.14,130.85 L324.20,129.73 L325.26,128.55 L326.32,127.32 L327.38,126.00 L328.44,124.60 L329.50,123.12 L330.56,121.57 L331.62,119.95 L332.68,118.27 L333.74,116.54 L334.80,114.77 L335.86,112.95 L336.92,111.06 L337.98,109.11 L339.04,107.09 L340.10,105.03 L341.16,102.93 L342.22,100.80 L343.28,98.65 L344.34,96.47 L345.40,94.26 L346.46,92.03 L347.52,89.81 L348.58,87.60 L349.64,85.40 L350.70,83.21 L351.76,81.00 L352.82,78.77 L353.88,76.53 L354.94,74.30 L356.00,72.09 L357.06,69.93 L358.12,67.79 L359.18,65.67 L360.24,63.61 L361.30,61.60 L362.36,59.64 L363.42,57.72 L364.48,55.84 L365.54,53.99 L366.60,52.18 L367.66,50.41 L368.72,48.67 L369.78,46.90 L370.84,44.98 L371.90,42.83 L372.96,40.39 L374.02,37.81 L375.08,35.29 L376.14,33.17 L377.20,31.51 L378.26,30.00 L379.32,28.64 L380.38,27.40 L381.44,26.29 L382.50,25.28 L383.56,24.36 L384.62,23.53 L385.68,22.78 L386.74,22.11 L387.80,21.49 L388.86,20.94 L389.92,20.44 L390.98,19.99 L392.04,19.58 L393.10,19.21 L394.16,18.87 L395.22,18.57 L396.28,18.30 L397.34,18.05 L398.40,17.82 L399.46,17.62 L400.51,17.44 L401.57,17.27 L402.63,17.12 L403.69,16.99 L404.75,16.86 L405.81,16.75 L406.87,16.65 L407.93,16.56 L408.99,16.48 L410.05,16.41 L411.11,16.35 L412.17,16.29 L413.23,16.23 L414.29,16.19 L415.35,16.14 L416.41,16.10 L417.47,16.07 L418.53,16.03 L419.59,16.00 L420.65,15.98 L421.71,15.95 L422.77,15.93 L423.83,15.91 L424.89,15.90 L425.95,15.88 L427.01,15.87 L428.07,15.85 L429.13,15.84 L430.19,15.83 L431.25,15.82 L432.31,15.82 L433.37,15.81 L434.43,15.80 L435.49,15.80 L436.55,15.79 L437.61,15.79 L438.67,15.78 L439.73,15.78 L440.79,15.77 L441.85,15.77 L442.91,15.77 L443.97,15.76 L445.03,15.76 L446.09,15.76 L447.15,15.75 L448.21,15.75 L449.27,15.75 L450.33,15.75 L451.39,15.75 L452.45,15.74 L453.51,15.74 L454.57,15.74 L455.63,15.74 L456.69,15.74 L457.75,15.74 L458.81,15.73 L459.87,15.73 L460.93,15.73 L461.99,15.73 L463.05,15.73 L464.11,15.73 L465.17,15.73 L466.23,15.73 L467.29,15.73 L468.35,15.72 L469.41,15.72 L470.47,15.72 L471.53,15.72 L472.59,15.72 L473.65,15.72 L474.71,15.72 L475.77,15.72 L476.83,15.72 L477.89,15.72 L478.95,15.72 L480.01,15.72 L481.07,15.72 L482.13,15.72 L483.19,15.72 L484.25,15.71 L485.30,15.71 L486.36,15.71 L487.42,15.71 L488.48,15.71 L489.54,15.71 L490.60,15.71 L491.66,15.71 L492.72,15.71 L493.78,15.71 L494.84,15.71 L495.90,15.71 L496.96,15.71 L498.02,15.71 L499.08,15.71 L500.14,15.71 L501.20,15.71 L502.26,15.71 L503.32,15.71 L504.38,15.71 L505.44,15.71 L506.50,15.71 L507.56,15.71 L508.62,15.70 L509.68,15.70 L510.74,15.70 L511.80,15.70 L512.86,15.70 L513.92,15.70 L514.98,15.70 L516.04,15.70 L517.10,15.70 L518.16,15.70 L519.22,15.70 L520.28,15.70 L521.34,15.70 L522.40,15.70 L523.46,15.70 L524.52,15.70 L525.58,15.70 L526.64,15.70 L527.24,15.70" fill="none" stroke="#cc3300" stroke-width="4.2" stroke-linecap="butt" stroke-linejoin="round"/>
<path d="M102.45,15.70 H527.14 M102.45,162.00 H527.14" stroke="#000" stroke-opacity="0.4" stroke-width="2.7" fill="none"/>
<path d="M375.60,2.40 V175.30" stroke="#000" stroke-opacity="0.4" stroke-width="2.7" fill="none"/>
<path d="M352.45,8.70 V175.30" stroke="#000" stroke-opacity="0.5" stroke-width="2.5" stroke-dasharray="9.7 10" fill="none"/>
<path d="M103.75,1.10 v4.9 M103.75,176.60 v-4.9 M120.02,1.10 v3.2 M120.02,176.60 v-3.2 M136.28,1.10 v3.2 M136.28,176.60 v-3.2 M152.55,1.10 v3.2 M152.55,176.60 v-3.2 M168.81,1.10 v4.9 M168.81,176.60 v-4.9 M185.07,1.10 v3.2 M185.07,176.60 v-3.2 M201.34,1.10 v3.2 M201.34,176.60 v-3.2 M217.61,1.10 v3.2 M217.61,176.60 v-3.2 M233.87,1.10 v4.9 M233.87,176.60 v-4.9 M250.14,1.10 v3.2 M250.14,176.60 v-3.2 M266.40,1.10 v3.2 M266.40,176.60 v-3.2 M282.67,1.10 v3.2 M282.67,176.60 v-3.2 M298.93,1.10 v4.9 M298.93,176.60 v-4.9 M315.20,1.10 v3.2 M315.20,176.60 v-3.2 M331.46,1.10 v3.2 M331.46,176.60 v-3.2 M347.73,1.10 v3.2 M347.73,176.60 v-3.2 M363.99,1.10 v4.9 M363.99,176.60 v-4.9 M380.26,1.10 v3.2 M380.26,176.60 v-3.2 M396.52,1.10 v3.2 M396.52,176.60 v-3.2 M412.79,1.10 v3.2 M412.79,176.60 v-3.2 M429.05,1.10 v4.9 M429.05,176.60 v-4.9 M445.32,1.10 v3.2 M445.32,176.60 v-3.2 M461.58,1.10 v3.2 M461.58,176.60 v-3.2 M477.85,1.10 v3.2 M477.85,176.60 v-3.2 M494.11,1.10 v4.9 M494.11,176.60 v-4.9 M510.38,1.10 v3.2 M510.38,176.60 v-3.2 M526.64,1.10 v3.2 M526.64,176.60 v-3.2 M95.15,169.31 h3.2 M533.65,169.31 h-3.2 M95.15,162.00 h4.9 M533.65,162.00 h-4.9 M95.15,154.69 h3.2 M533.65,154.69 h-3.2 M95.15,147.37 h3.2 M533.65,147.37 h-3.2 M95.15,140.06 h3.2 M533.65,140.06 h-3.2 M95.15,132.74 h4.9 M533.65,132.74 h-4.9 M95.15,125.43 h3.2 M533.65,125.43 h-3.2 M95.15,118.11 h3.2 M533.65,118.11 h-3.2 M95.15,110.80 h3.2 M533.65,110.80 h-3.2 M95.15,103.48 h4.9 M533.65,103.48 h-4.9 M95.15,96.17 h3.2 M533.65,96.17 h-3.2 M95.15,88.85 h3.2 M533.65,88.85 h-3.2 M95.15,81.53 h3.2 M533.65,81.53 h-3.2 M95.15,74.22 h4.9 M533.65,74.22 h-4.9 M95.15,66.91 h3.2 M533.65,66.91 h-3.2 M95.15,59.59 h3.2 M533.65,59.59 h-3.2 M95.15,52.28 h3.2 M533.65,52.28 h-3.2 M95.15,44.96 h4.9 M533.65,44.96 h-4.9 M95.15,37.64 h3.2 M533.65,37.64 h-3.2 M95.15,30.33 h3.2 M533.65,30.33 h-3.2 M95.15,23.02 h3.2 M533.65,23.02 h-3.2 M95.15,15.70 h4.9 M533.65,15.70 h-4.9 M95.15,8.39 h3.2 M533.65,8.39 h-3.2" stroke="#000" stroke-width="2.1" fill="none"/>
<rect x="95.15" y="1.1" width="438.50" height="175.5" fill="none" stroke="#000" stroke-width="2.65"/>
<text transform="translate(89.20,168.30) scale(1.06,1)" text-anchor="end" class="tk">1.0</text>
<text transform="translate(89.20,139.04) scale(1.06,1)" text-anchor="end" class="tk">1.2</text>
<text transform="translate(89.20,109.78) scale(1.06,1)" text-anchor="end" class="tk">1.4</text>
<text transform="translate(89.20,80.52) scale(1.06,1)" text-anchor="end" class="tk">1.6</text>
<text transform="translate(89.20,51.26) scale(1.06,1)" text-anchor="end" class="tk">1.8</text>
<text transform="translate(89.20,22.00) scale(1.06,1)" text-anchor="end" class="tk">2.0</text>
<text transform="translate(23.1,86.25) rotate(-90) scale(1.13,1)" text-anchor="middle" class="ax">Z</text>
<text transform="translate(104.1,32.60)" font-size="30" class="pl">(</text><text transform="translate(114.2,33.00) scale(1.11,1)" font-size="36.3" class="pl">a</text><text transform="translate(131.0,32.60)" font-size="30" class="pl">)</text>
</g>
<g id="panel-b">
<path d="M102.25,346.80 L103.75,346.80 L104.81,346.80 L105.87,346.80 L106.93,346.80 L107.99,346.80 L109.05,346.79 L110.11,346.79 L111.17,346.79 L112.23,346.79 L113.29,346.78 L114.35,346.78 L115.41,346.77 L116.47,346.77 L117.53,346.77 L118.59,346.76 L119.65,346.76 L120.71,346.75 L121.77,346.75 L122.83,346.74 L123.89,346.73 L124.95,346.72 L126.01,346.72 L127.07,346.70 L128.13,346.69 L129.19,346.68 L130.25,346.67 L131.31,346.65 L132.37,346.64 L133.43,346.63 L134.49,346.61 L135.55,346.59 L136.61,346.57 L137.67,346.55 L138.73,346.53 L139.79,346.50 L140.85,346.47 L141.91,346.44 L142.97,346.41 L144.03,346.37 L145.09,346.33 L146.14,346.29 L147.20,346.24 L148.26,346.20 L149.32,346.15 L150.38,346.10 L151.44,346.05 L152.50,346.00 L153.56,345.94 L154.62,345.88 L155.68,345.82 L156.74,345.75 L157.80,345.67 L158.86,345.60 L159.92,345.51 L160.98,345.43 L162.04,345.34 L163.10,345.24 L164.16,345.15 L165.22,345.05 L166.28,344.94 L167.34,344.83 L168.40,344.72 L169.46,344.61 L170.52,344.48 L171.58,344.35 L172.64,344.21 L173.70,344.07 L174.76,343.91 L175.82,343.75 L176.88,343.58 L177.94,343.41 L179.00,343.23 L180.06,343.04 L181.12,342.85 L182.18,342.65 L183.24,342.45 L184.30,342.24 L185.36,342.03 L186.42,341.81 L187.48,341.58 L188.54,341.33 L189.60,341.08 L190.66,340.82 L191.72,340.54 L192.78,340.26 L193.84,339.97 L194.90,339.67 L195.96,339.36 L197.02,339.05 L198.08,338.73 L199.14,338.41 L200.20,338.08 L201.26,337.74 L202.32,337.40 L203.38,337.04 L204.44,336.68 L205.50,336.31 L206.56,335.92 L207.62,335.52 L208.68,335.12 L209.74,334.70 L210.80,334.28 L211.86,333.85 L212.92,333.41 L213.98,332.96 L215.04,332.50 L216.10,332.04 L217.16,331.57 L218.22,331.09 L219.28,330.59 L220.34,330.09 L221.40,329.57 L222.46,329.03 L223.52,328.49 L224.58,327.93 L225.64,327.36 L226.70,326.79 L227.76,326.20 L228.82,325.61 L229.88,325.01 L230.93,324.40 L231.99,323.79 L233.05,323.17 L234.11,322.55 L235.17,321.91 L236.23,321.27 L237.29,320.63 L238.35,319.97 L239.41,319.30 L240.47,318.62 L241.53,317.93 L242.59,317.24 L243.65,316.53 L244.71,315.81 L245.77,315.09 L246.83,314.35 L247.89,313.60 L248.95,312.84 L250.01,312.07 L251.07,311.28 L252.13,310.48 L253.19,309.65 L254.25,308.81 L255.31,307.96 L256.37,307.09 L257.43,306.21 L258.49,305.31 L259.55,304.41 L260.61,303.51 L261.67,302.60 L262.73,301.68 L263.79,300.77 L264.85,299.85 L265.91,298.94 L266.97,298.03 L268.03,297.11 L269.09,296.19 L270.15,295.26 L271.21,294.32 L272.27,293.38 L273.33,292.43 L274.39,291.48 L275.45,290.53 L276.51,289.57 L277.57,288.62 L278.63,287.67 L279.69,286.71 L280.75,285.76 L281.81,284.81 L282.87,283.87 L283.93,282.93 L284.99,281.98 L286.05,281.03 L287.11,280.08 L288.17,279.13 L289.23,278.18 L290.29,277.23 L291.35,276.28 L292.41,275.33 L293.47,274.39 L294.53,273.45 L295.59,272.51 L296.65,271.58 L297.71,270.65 L298.77,269.72 L299.83,268.80 L300.89,267.88 L301.95,266.96 L303.01,266.04 L304.07,265.13 L305.13,264.21 L306.19,263.30 L307.25,262.39 L308.31,261.49 L309.37,260.59 L310.43,259.70 L311.49,258.82 L312.55,257.95 L313.61,257.08 L314.67,256.23 L315.72,255.38 L316.78,254.54 L317.84,253.71 L318.90,252.89 L319.96,252.08 L321.02,251.27 L322.08,250.46 L323.14,249.67 L324.20,248.87 L325.26,248.08 L326.32,247.30 L327.38,246.52 L328.44,245.75 L329.50,244.97 L330.56,244.21 L331.62,243.44 L332.68,242.67 L333.74,241.90 L334.80,241.13 L335.86,240.36 L336.92,239.59 L337.98,238.83 L339.04,238.07 L340.10,237.32 L341.16,236.58 L342.22,235.84 L343.28,235.12 L344.34,234.41 L345.40,233.71 L346.46,233.04 L347.52,232.37 L348.58,231.72 L349.64,231.08 L350.70,230.44 L351.76,229.80 L352.82,229.18 L353.88,228.56 L354.94,227.95 L356.00,227.36 L357.06,226.77 L358.12,226.20 L359.18,225.64 L360.24,225.10 L361.30,224.57 L362.36,224.07 L363.42,223.58 L364.48,223.11 L365.54,222.65 L366.60,222.21 L367.66,221.78 L368.72,221.37 L369.78,220.96 L370.84,220.56 L371.90,220.17 L372.96,219.79 L374.02,219.42 L375.08,219.05 L376.14,218.69 L377.20,218.33 L378.26,217.98 L379.32,217.63 L380.38,217.28 L381.44,216.94 L382.50,216.60 L383.56,216.27 L384.62,215.94 L385.68,215.62 L386.74,215.30 L387.80,214.99 L388.86,214.68 L389.92,214.38 L390.98,214.08 L392.04,213.78 L393.10,213.49 L394.16,213.20 L395.22,212.92 L396.28,212.63 L397.34,212.36 L398.40,212.08 L399.46,211.81 L400.51,211.53 L401.57,211.26 L402.63,211.00 L403.69,210.74 L404.75,210.48 L405.81,210.22 L406.87,209.97 L407.93,209.73 L408.99,209.49 L410.05,209.26 L411.11,209.03 L412.17,208.82 L413.23,208.60 L414.29,208.39 L415.35,208.18 L416.41,207.98 L417.47,207.77 L418.53,207.57 L419.59,207.38 L420.65,207.18 L421.71,207.00 L422.77,206.82 L423.83,206.65 L424.89,206.48 L425.95,206.32 L427.01,206.17 L428.07,206.03 L429.13,205.90 L430.19,205.78 L431.25,205.67 L432.31,205.56 L433.37,205.45 L434.43,205.35 L435.49,205.26 L436.55,205.16 L437.61,205.07 L438.67,204.99 L439.73,204.90 L440.79,204.81 L441.85,204.73 L442.91,204.65 L443.97,204.56 L445.03,204.47 L446.09,204.39 L447.15,204.30 L448.21,204.21 L449.27,204.13 L450.33,204.04 L451.39,203.96 L452.45,203.87 L453.51,203.79 L454.57,203.71 L455.63,203.63 L456.69,203.55 L457.75,203.47 L458.81,203.40 L459.87,203.32 L460.93,203.25 L461.99,203.18 L463.05,203.11 L464.11,203.04 L465.17,202.98 L466.23,202.91 L467.29,202.84 L468.35,202.78 L469.41,202.72 L470.47,202.66 L471.53,202.60 L472.59,202.54 L473.65,202.48 L474.71,202.42 L475.77,202.36 L476.83,202.31 L477.89,202.25 L478.95,202.20 L480.01,202.15 L481.07,202.10 L482.13,202.05 L483.19,202.00 L484.25,201.95 L485.30,201.90 L486.36,201.85 L487.42,201.80 L488.48,201.76 L489.54,201.71 L490.60,201.67 L491.66,201.62 L492.72,201.58 L493.78,201.54 L494.84,201.49 L495.90,201.45 L496.96,201.41 L498.02,201.37 L499.08,201.33 L500.14,201.29 L501.20,201.25 L502.26,201.21 L503.32,201.17 L504.38,201.13 L505.44,201.09 L506.50,201.06 L507.56,201.02 L508.62,200.99 L509.68,200.96 L510.74,200.93 L511.80,200.90 L512.86,200.87 L513.92,200.84 L514.98,200.80 L516.04,200.77 L517.10,200.74 L518.16,200.71 L519.22,200.69 L520.28,200.66 L521.34,200.64 L522.40,200.62 L523.46,200.60 L524.52,200.59 L525.58,200.58 L526.64,200.57 L527.24,200.57" fill="none" stroke="#d4eed9" stroke-width="4.2" stroke-linecap="butt" stroke-linejoin="round"/>
<path d="M102.25,346.80 L103.75,346.80 L104.81,346.79 L105.87,346.78 L106.93,346.78 L107.99,346.77 L109.05,346.76 L110.11,346.76 L111.17,346.75 L112.23,346.74 L113.29,346.74 L114.35,346.73 L115.41,346.73 L116.47,346.72 L117.53,346.71 L118.59,346.71 L119.65,346.70 L120.71,346.70 L121.77,346.69 L122.83,346.69 L123.89,346.68 L124.95,346.68 L126.01,346.68 L127.07,346.67 L128.13,346.67 L129.19,346.66 L130.25,346.65 L131.31,346.65 L132.37,346.64 L133.43,346.64 L134.49,346.63 L135.55,346.62 L136.61,346.61 L137.67,346.61 L138.73,346.60 L139.79,346.59 L140.85,346.58 L141.91,346.57 L142.97,346.56 L144.03,346.55 L145.09,346.54 L146.14,346.53 L147.20,346.52 L148.26,346.50 L149.32,346.48 L150.38,346.47 L151.44,346.44 L152.50,346.42 L153.56,346.40 L154.62,346.37 L155.68,346.35 L156.74,346.32 L157.80,346.29 L158.86,346.26 L159.92,346.22 L160.98,346.19 L162.04,346.16 L163.10,346.12 L164.16,346.09 L165.22,346.05 L166.28,346.01 L167.34,345.97 L168.40,345.92 L169.46,345.87 L170.52,345.82 L171.58,345.76 L172.64,345.70 L173.70,345.64 L174.76,345.58 L175.82,345.51 L176.88,345.44 L177.94,345.37 L179.00,345.30 L180.06,345.22 L181.12,345.14 L182.18,345.06 L183.24,344.98 L184.30,344.90 L185.36,344.81 L186.42,344.71 L187.48,344.61 L188.54,344.51 L189.60,344.40 L190.66,344.28 L191.72,344.16 L192.78,344.04 L193.84,343.91 L194.90,343.78 L195.96,343.64 L197.02,343.50 L198.08,343.36 L199.14,343.21 L200.20,343.07 L201.26,342.91 L202.32,342.76 L203.38,342.60 L204.44,342.44 L205.50,342.28 L206.56,342.11 L207.62,341.93 L208.68,341.74 L209.74,341.55 L210.80,341.35 L211.86,341.15 L212.92,340.94 L213.98,340.73 L215.04,340.51 L216.10,340.29 L217.16,340.06 L218.22,339.83 L219.28,339.60 L220.34,339.36 L221.40,339.12 L222.46,338.87 L223.52,338.63 L224.58,338.38 L225.64,338.12 L226.70,337.86 L227.76,337.59 L228.82,337.32 L229.88,337.03 L230.93,336.74 L231.99,336.45 L233.05,336.14 L234.11,335.83 L235.17,335.52 L236.23,335.19 L237.29,334.86 L238.35,334.53 L239.41,334.18 L240.47,333.83 L241.53,333.47 L242.59,333.11 L243.65,332.74 L244.71,332.36 L245.77,331.97 L246.83,331.57 L247.89,331.16 L248.95,330.73 L250.01,330.30 L251.07,329.85 L252.13,329.39 L253.19,328.91 L254.25,328.43 L255.31,327.93 L256.37,327.42 L257.43,326.89 L258.49,326.36 L259.55,325.81 L260.61,325.25 L261.67,324.68 L262.73,324.10 L263.79,323.51 L264.85,322.90 L265.91,322.28 L266.97,321.64 L268.03,320.98 L269.09,320.31 L270.15,319.61 L271.21,318.90 L272.27,318.17 L273.33,317.42 L274.39,316.66 L275.45,315.87 L276.51,315.06 L277.57,314.23 L278.63,313.39 L279.69,312.52 L280.75,311.62 L281.81,310.68 L282.87,309.72 L283.93,308.74 L284.99,307.73 L286.05,306.70 L287.11,305.65 L288.17,304.59 L289.23,303.52 L290.29,302.44 L291.35,301.36 L292.41,300.28 L293.47,299.19 L294.53,298.10 L295.59,296.99 L296.65,295.88 L297.71,294.76 L298.77,293.63 L299.83,292.49 L300.89,291.36 L301.95,290.23 L303.01,289.09 L304.07,287.97 L305.13,286.84 L306.19,285.73 L307.25,284.62 L308.31,283.52 L309.37,282.41 L310.43,281.30 L311.49,280.19 L312.55,279.07 L313.61,277.94 L314.67,276.81 L315.72,275.66 L316.78,274.51 L317.84,273.35 L318.90,272.18 L319.96,271.00 L321.02,269.81 L322.08,268.59 L323.14,267.35 L324.20,266.09 L325.26,264.80 L326.32,263.49 L327.38,262.15 L328.44,260.80 L329.50,259.42 L330.56,258.04 L331.62,256.66 L332.68,255.29 L333.74,253.92 L334.80,252.58 L335.86,251.25 L336.92,249.95 L337.98,248.68 L339.04,247.43 L340.10,246.23 L341.16,245.07 L342.22,243.95 L343.28,242.87 L344.34,241.84 L345.40,240.85 L346.46,239.89 L347.52,238.94 L348.58,238.02 L349.64,237.10 L350.70,236.18 L351.76,235.26 L352.82,234.32 L353.88,233.37 L354.94,232.41 L356.00,231.44 L357.06,230.45 L358.12,229.45 L359.18,228.45 L360.24,227.45 L361.30,226.46 L362.36,225.50 L363.42,224.57 L364.48,223.68 L365.54,222.85 L366.60,222.09 L367.66,221.42 L368.72,220.78 L369.78,220.17 L370.84,219.59 L371.90,219.03 L372.96,218.50 L374.02,217.98 L375.08,217.49 L376.14,217.01 L377.20,216.55 L378.26,216.11 L379.32,215.68 L380.38,215.26 L381.44,214.86 L382.50,214.47 L383.56,214.09 L384.62,213.72 L385.68,213.37 L386.74,213.02 L387.80,212.69 L388.86,212.36 L389.92,212.05 L390.98,211.74 L392.04,211.44 L393.10,211.15 L394.16,210.87 L395.22,210.59 L396.28,210.33 L397.34,210.06 L398.40,209.81 L399.46,209.55 L400.51,209.30 L401.57,209.06 L402.63,208.82 L403.69,208.59 L404.75,208.36 L405.81,208.14 L406.87,207.93 L407.93,207.72 L408.99,207.51 L410.05,207.32 L411.11,207.13 L412.17,206.94 L413.23,206.77 L414.29,206.59 L415.35,206.42 L416.41,206.25 L417.47,206.08 L418.53,205.92 L419.59,205.76 L420.65,205.61 L421.71,205.46 L422.77,205.31 L423.83,205.18 L424.89,205.04 L425.95,204.92 L427.01,204.80 L428.07,204.69 L429.13,204.59 L430.19,204.49 L431.25,204.40 L432.31,204.32 L433.37,204.23 L434.43,204.16 L435.49,204.08 L436.55,204.01 L437.61,203.94 L438.67,203.87 L439.73,203.80 L440.79,203.74 L441.85,203.67 L442.91,203.61 L443.97,203.54 L445.03,203.47 L446.09,203.41 L447.15,203.34 L448.21,203.27 L449.27,203.21 L450.33,203.14 L451.39,203.08 L452.45,203.02 L453.51,202.95 L454.57,202.89 L455.63,202.83 L456.69,202.77 L457.75,202.71 L458.81,202.66 L459.87,202.60 L460.93,202.55 L461.99,202.49 L463.05,202.44 L464.11,202.39 L465.17,202.34 L466.23,202.29 L467.29,202.24 L468.35,202.19 L469.41,202.15 L470.47,202.10 L471.53,202.06 L472.59,202.01 L473.65,201.97 L474.71,201.92 L475.77,201.88 L476.83,201.84 L477.89,201.80 L478.95,201.76 L480.01,201.72 L481.07,201.68 L482.13,201.65 L483.19,201.61 L484.25,201.57 L485.30,201.54 L486.36,201.50 L487.42,201.47 L488.48,201.43 L489.54,201.40 L490.60,201.37 L491.66,201.33 L492.72,201.30 L493.78,201.27 L494.84,201.24 L495.90,201.21 L496.96,201.17 L498.02,201.14 L499.08,201.11 L500.14,201.08 L501.20,201.05 L502.26,201.02 L503.32,200.99 L504.38,200.97 L505.44,200.94 L506.50,200.91 L507.56,200.89 L508.62,200.86 L509.68,200.84 L510.74,200.82 L511.80,200.79 L512.86,200.77 L513.92,200.75 L514.98,200.73 L516.04,200.70 L517.10,200.68 L518.16,200.66 L519.22,200.64 L520.28,200.62 L521.34,200.60 L522.40,200.59 L523.46,200.57 L524.52,200.56 L525.58,200.56 L526.64,200.55 L527.24,200.55" fill="none" stroke="#aaddb3" stroke-width="4.2" stroke-linecap="butt" stroke-linejoin="round"/>
<path d="M102.25,346.77 L103.75,346.77 L104.81,346.77 L105.87,346.77 L106.93,346.78 L107.99,346.78 L109.05,346.78 L110.11,346.78 L111.17,346.78 L112.23,346.78 L113.29,346.78 L114.35,346.78 L115.41,346.78 L116.47,346.78 L117.53,346.78 L118.59,346.78 L119.65,346.78 L120.71,346.78 L121.77,346.78 L122.83,346.78 L123.89,346.78 L124.95,346.78 L126.01,346.78 L127.07,346.78 L128.13,346.78 L129.19,346.78 L130.25,346.78 L131.31,346.78 L132.37,346.78 L133.43,346.77 L134.49,346.77 L135.55,346.77 L136.61,346.77 L137.67,346.76 L138.73,346.76 L139.79,346.76 L140.85,346.75 L141.91,346.75 L142.97,346.74 L144.03,346.74 L145.09,346.73 L146.14,346.72 L147.20,346.72 L148.26,346.71 L149.32,346.70 L150.38,346.69 L151.44,346.69 L152.50,346.68 L153.56,346.67 L154.62,346.66 L155.68,346.65 L156.74,346.64 L157.80,346.63 L158.86,346.61 L159.92,346.60 L160.98,346.58 L162.04,346.56 L163.10,346.54 L164.16,346.52 L165.22,346.50 L166.28,346.47 L167.34,346.45 L168.40,346.42 L169.46,346.40 L170.52,346.37 L171.58,346.34 L172.64,346.31 L173.70,346.28 L174.76,346.24 L175.82,346.21 L176.88,346.18 L177.94,346.14 L179.00,346.11 L180.06,346.07 L181.12,346.03 L182.18,345.99 L183.24,345.95 L184.30,345.90 L185.36,345.86 L186.42,345.81 L187.48,345.76 L188.54,345.70 L189.60,345.65 L190.66,345.59 L191.72,345.53 L192.78,345.47 L193.84,345.41 L194.90,345.34 L195.96,345.28 L197.02,345.21 L198.08,345.14 L199.14,345.07 L200.20,345.00 L201.26,344.92 L202.32,344.85 L203.38,344.78 L204.44,344.70 L205.50,344.62 L206.56,344.53 L207.62,344.44 L208.68,344.35 L209.74,344.26 L210.80,344.16 L211.86,344.06 L212.92,343.96 L213.98,343.85 L215.04,343.74 L216.10,343.63 L217.16,343.52 L218.22,343.41 L219.28,343.29 L220.34,343.17 L221.40,343.05 L222.46,342.93 L223.52,342.81 L224.58,342.68 L225.64,342.55 L226.70,342.43 L227.76,342.30 L228.82,342.16 L229.88,342.03 L230.93,341.89 L231.99,341.74 L233.05,341.59 L234.11,341.44 L235.17,341.28 L236.23,341.11 L237.29,340.95 L238.35,340.78 L239.41,340.60 L240.47,340.42 L241.53,340.24 L242.59,340.06 L243.65,339.87 L244.71,339.67 L245.77,339.47 L246.83,339.27 L247.89,339.07 L248.95,338.86 L250.01,338.64 L251.07,338.42 L252.13,338.20 L253.19,337.98 L254.25,337.75 L255.31,337.51 L256.37,337.26 L257.43,337.01 L258.49,336.75 L259.55,336.48 L260.61,336.20 L261.67,335.91 L262.73,335.61 L263.79,335.31 L264.85,334.99 L265.91,334.66 L266.97,334.33 L268.03,333.98 L269.09,333.62 L270.15,333.25 L271.21,332.87 L272.27,332.47 L273.33,332.07 L274.39,331.65 L275.45,331.22 L276.51,330.77 L277.57,330.30 L278.63,329.81 L279.69,329.30 L280.75,328.78 L281.81,328.23 L282.87,327.66 L283.93,327.08 L284.99,326.48 L286.05,325.85 L287.11,325.21 L288.17,324.55 L289.23,323.87 L290.29,323.18 L291.35,322.46 L292.41,321.73 L293.47,320.96 L294.53,320.18 L295.59,319.36 L296.65,318.52 L297.71,317.66 L298.77,316.77 L299.83,315.85 L300.89,314.91 L301.95,313.94 L303.01,312.95 L304.07,311.93 L305.13,310.88 L306.19,309.78 L307.25,308.66 L308.31,307.50 L309.37,306.31 L310.43,305.10 L311.49,303.87 L312.55,302.61 L313.61,301.34 L314.67,300.05 L315.72,298.75 L316.78,297.43 L317.84,296.08 L318.90,294.69 L319.96,293.27 L321.02,291.82 L322.08,290.33 L323.14,288.82 L324.20,287.29 L325.26,285.73 L326.32,284.15 L327.38,282.53 L328.44,280.88 L329.50,279.17 L330.56,277.41 L331.62,275.61 L332.68,273.76 L333.74,271.88 L334.80,269.98 L335.86,268.03 L336.92,266.04 L337.98,264.01 L339.04,261.96 L340.10,259.91 L341.16,257.88 L342.22,255.92 L343.28,254.06 L344.34,252.30 L345.40,250.64 L346.46,249.06 L347.52,247.56 L348.58,246.11 L349.64,244.72 L350.70,243.37 L351.76,242.06 L352.82,240.76 L353.88,239.47 L354.94,238.18 L356.00,236.86 L357.06,235.51 L358.12,234.09 L359.18,232.62 L360.24,231.09 L361.30,229.48 L362.36,227.83 L363.42,226.20 L364.48,224.62 L365.54,223.15 L366.60,221.90 L367.66,220.85 L368.72,219.88 L369.78,218.98 L370.84,218.13 L371.90,217.35 L372.96,216.61 L374.02,215.93 L375.08,215.28 L376.14,214.68 L377.20,214.11 L378.26,213.57 L379.32,213.07 L380.38,212.59 L381.44,212.13 L382.50,211.70 L383.56,211.30 L384.62,210.91 L385.68,210.55 L386.74,210.20 L387.80,209.87 L388.86,209.56 L389.92,209.26 L390.98,208.98 L392.04,208.71 L393.10,208.44 L394.16,208.20 L395.22,207.96 L396.28,207.73 L397.34,207.50 L398.40,207.29 L399.46,207.08 L400.51,206.88 L401.57,206.68 L402.63,206.50 L403.69,206.31 L404.75,206.14 L405.81,205.97 L406.87,205.80 L407.93,205.64 L408.99,205.49 L410.05,205.34 L411.11,205.20 L412.17,205.06 L413.23,204.93 L414.29,204.80 L415.35,204.68 L416.41,204.55 L417.47,204.43 L418.53,204.31 L419.59,204.20 L420.65,204.09 L421.71,203.98 L422.77,203.88 L423.83,203.78 L424.89,203.69 L425.95,203.60 L427.01,203.51 L428.07,203.44 L429.13,203.36 L430.19,203.30 L431.25,203.23 L432.31,203.17 L433.37,203.11 L434.43,203.06 L435.49,203.01 L436.55,202.96 L437.61,202.91 L438.67,202.86 L439.73,202.81 L440.79,202.76 L441.85,202.72 L442.91,202.67 L443.97,202.63 L445.03,202.58 L446.09,202.53 L447.15,202.49 L448.21,202.44 L449.27,202.40 L450.33,202.35 L451.39,202.31 L452.45,202.26 L453.51,202.22 L454.57,202.18 L455.63,202.13 L456.69,202.09 L457.75,202.05 L458.81,202.01 L459.87,201.97 L460.93,201.93 L461.99,201.90 L463.05,201.86 L464.11,201.82 L465.17,201.79 L466.23,201.76 L467.29,201.72 L468.35,201.69 L469.41,201.66 L470.47,201.62 L471.53,201.59 L472.59,201.56 L473.65,201.53 L474.71,201.50 L475.77,201.47 L476.83,201.44 L477.89,201.41 L478.95,201.38 L480.01,201.36 L481.07,201.33 L482.13,201.30 L483.19,201.28 L484.25,201.25 L485.30,201.23 L486.36,201.20 L487.42,201.18 L488.48,201.15 L489.54,201.13 L490.60,201.11 L491.66,201.08 L492.72,201.06 L493.78,201.04 L494.84,201.02 L495.90,201.00 L496.96,200.97 L498.02,200.95 L499.08,200.93 L500.14,200.91 L501.20,200.89 L502.26,200.87 L503.32,200.85 L504.38,200.83 L505.44,200.81 L506.50,200.79 L507.56,200.77 L508.62,200.75 L509.68,200.74 L510.74,200.72 L511.80,200.71 L512.86,200.69 L513.92,200.67 L514.98,200.66 L516.04,200.64 L517.10,200.63 L518.16,200.61 L519.22,200.60 L520.28,200.58 L521.34,200.57 L522.40,200.56 L523.46,200.55 L524.52,200.55 L525.58,200.54 L526.64,200.54 L527.24,200.54" fill="none" stroke="#80cc8c" stroke-width="4.2" stroke-linecap="butt" stroke-linejoin="round"/>
<path d="M102.25,346.81 L103.75,346.81 L104.81,346.81 L105.87,346.81 L106.93,346.81 L107.99,346.81 L109.05,346.81 L110.11,346.81 L111.17,346.81 L112.23,346.81 L113.29,346.81 L114.35,346.81 L115.41,346.81 L116.47,346.81 L117.53,346.80 L118.59,346.80 L119.65,346.80 L120.71,346.80 L121.77,346.80 L122.83,346.80 L123.89,346.79 L124.95,346.79 L126.01,346.79 L127.07,346.79 L128.13,346.79 L129.19,346.78 L130.25,346.78 L131.31,346.78 L132.37,346.78 L133.43,346.77 L134.49,346.77 L135.55,346.77 L136.61,346.76 L137.67,346.76 L138.73,346.76 L139.79,346.76 L140.85,346.75 L141.91,346.75 L142.97,346.74 L144.03,346.74 L145.09,346.73 L146.14,346.73 L147.20,346.72 L148.26,346.72 L149.32,346.71 L150.38,346.71 L151.44,346.70 L152.50,346.69 L153.56,346.69 L154.62,346.68 L155.68,346.67 L156.74,346.66 L157.80,346.65 L158.86,346.65 L159.92,346.64 L160.98,346.63 L162.04,346.62 L163.10,346.61 L164.16,346.60 L165.22,346.59 L166.28,346.58 L167.34,346.57 L168.40,346.56 L169.46,346.54 L170.52,346.53 L171.58,346.52 L172.64,346.50 L173.70,346.49 L174.76,346.47 L175.82,346.45 L176.88,346.43 L177.94,346.41 L179.00,346.39 L180.06,346.37 L181.12,346.35 L182.18,346.32 L183.24,346.30 L184.30,346.27 L185.36,346.25 L186.42,346.22 L187.48,346.19 L188.54,346.16 L189.60,346.14 L190.66,346.11 L191.72,346.08 L192.78,346.05 L193.84,346.02 L194.90,345.99 L195.96,345.95 L197.02,345.92 L198.08,345.89 L199.14,345.86 L200.20,345.82 L201.26,345.78 L202.32,345.74 L203.38,345.70 L204.44,345.66 L205.50,345.62 L206.56,345.58 L207.62,345.53 L208.68,345.49 L209.74,345.44 L210.80,345.39 L211.86,345.34 L212.92,345.29 L213.98,345.24 L215.04,345.19 L216.10,345.14 L217.16,345.08 L218.22,345.03 L219.28,344.97 L220.34,344.92 L221.40,344.86 L222.46,344.80 L223.52,344.75 L224.58,344.69 L225.64,344.63 L226.70,344.57 L227.76,344.51 L228.82,344.44 L229.88,344.38 L230.93,344.31 L231.99,344.24 L233.05,344.16 L234.11,344.09 L235.17,344.01 L236.23,343.93 L237.29,343.85 L238.35,343.77 L239.41,343.69 L240.47,343.60 L241.53,343.51 L242.59,343.42 L243.65,343.33 L244.71,343.24 L245.77,343.14 L246.83,343.04 L247.89,342.94 L248.95,342.84 L250.01,342.74 L251.07,342.63 L252.13,342.52 L253.19,342.41 L254.25,342.30 L255.31,342.19 L256.37,342.07 L257.43,341.95 L258.49,341.83 L259.55,341.70 L260.61,341.56 L261.67,341.43 L262.73,341.28 L263.79,341.13 L264.85,340.98 L265.91,340.82 L266.97,340.65 L268.03,340.48 L269.09,340.30 L270.15,340.11 L271.21,339.92 L272.27,339.73 L273.33,339.52 L274.39,339.31 L275.45,339.10 L276.51,338.87 L277.57,338.64 L278.63,338.41 L279.69,338.16 L280.75,337.92 L281.81,337.66 L282.87,337.40 L283.93,337.12 L284.99,336.83 L286.05,336.53 L287.11,336.22 L288.17,335.90 L289.23,335.56 L290.29,335.21 L291.35,334.84 L292.41,334.46 L293.47,334.06 L294.53,333.65 L295.59,333.22 L296.65,332.77 L297.71,332.31 L298.77,331.83 L299.83,331.34 L300.89,330.83 L301.95,330.29 L303.01,329.72 L304.07,329.13 L305.13,328.52 L306.19,327.89 L307.25,327.23 L308.31,326.54 L309.37,325.83 L310.43,325.09 L311.49,324.33 L312.55,323.54 L313.61,322.72 L314.67,321.86 L315.72,320.97 L316.78,320.02 L317.84,319.03 L318.90,317.99 L319.96,316.88 L321.02,315.72 L322.08,314.49 L323.14,313.19 L324.20,311.81 L325.26,310.34 L326.32,308.76 L327.38,307.08 L328.44,305.28 L329.50,303.39 L330.56,301.40 L331.62,299.35 L332.68,297.23 L333.74,295.02 L334.80,292.72 L335.86,290.33 L336.92,287.89 L337.98,285.42 L339.04,282.94 L340.10,280.42 L341.16,277.86 L342.22,275.29 L343.28,272.75 L344.34,270.27 L345.40,267.83 L346.46,265.38 L347.52,262.93 L348.58,260.48 L349.64,258.03 L350.70,255.64 L351.76,253.34 L352.82,251.13 L353.88,248.97 L354.94,246.88 L356.00,244.82 L357.06,242.80 L358.12,240.80 L359.18,238.76 L360.24,236.64 L361.30,234.36 L362.36,231.89 L363.42,229.19 L364.48,226.38 L365.54,223.70 L366.60,221.60 L367.66,219.98 L368.72,218.52 L369.78,217.21 L370.84,216.03 L371.90,214.97 L372.96,214.01 L374.02,213.13 L375.08,212.35 L376.14,211.63 L377.20,210.98 L378.26,210.38 L379.32,209.84 L380.38,209.34 L381.44,208.89 L382.50,208.47 L383.56,208.09 L384.62,207.74 L385.68,207.41 L386.74,207.11 L387.80,206.83 L388.86,206.57 L389.92,206.33 L390.98,206.11 L392.04,205.90 L393.10,205.70 L394.16,205.52 L395.22,205.35 L396.28,205.18 L397.34,205.03 L398.40,204.88 L399.46,204.74 L400.51,204.60 L401.57,204.47 L402.63,204.34 L403.69,204.22 L404.75,204.11 L405.81,204.00 L406.87,203.89 L407.93,203.79 L408.99,203.69 L410.05,203.60 L411.11,203.51 L412.17,203.42 L413.23,203.34 L414.29,203.26 L415.35,203.18 L416.41,203.10 L417.47,203.02 L418.53,202.95 L419.59,202.88 L420.65,202.81 L421.71,202.74 L422.77,202.68 L423.83,202.61 L424.89,202.55 L425.95,202.50 L427.01,202.45 L428.07,202.40 L429.13,202.35 L430.19,202.31 L431.25,202.27 L432.31,202.23 L433.37,202.19 L434.43,202.16 L435.49,202.12 L436.55,202.09 L437.61,202.06 L438.67,202.03 L439.73,202.00 L440.79,201.97 L441.85,201.94 L442.91,201.91 L443.97,201.88 L445.03,201.85 L446.09,201.82 L447.15,201.79 L448.21,201.76 L449.27,201.73 L450.33,201.71 L451.39,201.68 L452.45,201.65 L453.51,201.62 L454.57,201.59 L455.63,201.56 L456.69,201.54 L457.75,201.51 L458.81,201.49 L459.87,201.46 L460.93,201.44 L461.99,201.41 L463.05,201.39 L464.11,201.36 L465.17,201.34 L466.23,201.32 L467.29,201.30 L468.35,201.28 L469.41,201.25 L470.47,201.23 L471.53,201.21 L472.59,201.19 L473.65,201.17 L474.71,201.15 L475.77,201.13 L476.83,201.11 L477.89,201.10 L478.95,201.08 L480.01,201.06 L481.07,201.04 L482.13,201.03 L483.19,201.01 L484.25,200.99 L485.30,200.98 L486.36,200.96 L487.42,200.94 L488.48,200.93 L489.54,200.91 L490.60,200.90 L491.66,200.88 L492.72,200.87 L493.78,200.85 L494.84,200.84 L495.90,200.82 L496.96,200.81 L498.02,200.80 L499.08,200.78 L500.14,200.77 L501.20,200.75 L502.26,200.74 L503.32,200.73 L504.38,200.71 L505.44,200.70 L506.50,200.69 L507.56,200.68 L508.62,200.67 L509.68,200.66 L510.74,200.65 L511.80,200.64 L512.86,200.62 L513.92,200.61 L514.98,200.60 L516.04,200.59 L517.10,200.58 L518.16,200.57 L519.22,200.56 L520.28,200.55 L521.34,200.55 L522.40,200.54 L523.46,200.53 L524.52,200.53 L525.58,200.53 L526.64,200.52 L527.24,200.52" fill="none" stroke="#55bb66" stroke-width="4.2" stroke-linecap="butt" stroke-linejoin="round"/>
<path d="M102.25,346.79 L103.75,346.79 L104.81,346.79 L105.87,346.79 L106.93,346.80 L107.99,346.80 L109.05,346.80 L110.11,346.80 L111.17,346.80 L112.23,346.80 L113.29,346.80 L114.35,346.80 L115.41,346.81 L116.47,346.81 L117.53,346.81 L118.59,346.81 L119.65,346.81 L120.71,346.81 L121.77,346.81 L122.83,346.81 L123.89,346.81 L124.95,346.81 L126.01,346.81 L127.07,346.81 L128.13,346.81 L129.19,346.81 L130.25,346.80 L131.31,346.80 L132.37,346.80 L133.43,346.80 L134.49,346.80 L135.55,346.80 L136.61,346.80 L137.67,346.80 L138.73,346.80 L139.79,346.79 L140.85,346.79 L141.91,346.79 L142.97,346.79 L144.03,346.79 L145.09,346.78 L146.14,346.78 L147.20,346.78 L148.26,346.78 L149.32,346.77 L150.38,346.77 L151.44,346.77 L152.50,346.77 L153.56,346.76 L154.62,346.76 L155.68,346.75 L156.74,346.75 L157.80,346.75 L158.86,346.74 L159.92,346.74 L160.98,346.73 L162.04,346.73 L163.10,346.72 L164.16,346.72 L165.22,346.71 L166.28,346.70 L167.34,346.70 L168.40,346.69 L169.46,346.68 L170.52,346.68 L171.58,346.67 L172.64,346.66 L173.70,346.65 L174.76,346.64 L175.82,346.64 L176.88,346.63 L177.94,346.62 L179.00,346.61 L180.06,346.60 L181.12,346.59 L182.18,346.58 L183.24,346.57 L184.30,346.56 L185.36,346.55 L186.42,346.54 L187.48,346.53 L188.54,346.52 L189.60,346.50 L190.66,346.49 L191.72,346.47 L192.78,346.46 L193.84,346.44 L194.90,346.42 L195.96,346.40 L197.02,346.39 L198.08,346.37 L199.14,346.35 L200.20,346.33 L201.26,346.31 L202.32,346.29 L203.38,346.27 L204.44,346.24 L205.50,346.22 L206.56,346.20 L207.62,346.18 L208.68,346.15 L209.74,346.13 L210.80,346.11 L211.86,346.08 L212.92,346.06 L213.98,346.03 L215.04,346.01 L216.10,345.98 L217.16,345.96 L218.22,345.93 L219.28,345.91 L220.34,345.88 L221.40,345.86 L222.46,345.83 L223.52,345.80 L224.58,345.77 L225.64,345.74 L226.70,345.71 L227.76,345.67 L228.82,345.64 L229.88,345.61 L230.93,345.57 L231.99,345.54 L233.05,345.50 L234.11,345.46 L235.17,345.43 L236.23,345.39 L237.29,345.35 L238.35,345.31 L239.41,345.27 L240.47,345.23 L241.53,345.19 L242.59,345.14 L243.65,345.10 L244.71,345.05 L245.77,345.01 L246.83,344.96 L247.89,344.92 L248.95,344.87 L250.01,344.82 L251.07,344.77 L252.13,344.72 L253.19,344.67 L254.25,344.62 L255.31,344.56 L256.37,344.51 L257.43,344.45 L258.49,344.39 L259.55,344.33 L260.61,344.27 L261.67,344.20 L262.73,344.13 L263.79,344.06 L264.85,343.98 L265.91,343.91 L266.97,343.83 L268.03,343.74 L269.09,343.66 L270.15,343.57 L271.21,343.48 L272.27,343.38 L273.33,343.29 L274.39,343.18 L275.45,343.08 L276.51,342.97 L277.57,342.86 L278.63,342.75 L279.69,342.63 L280.75,342.51 L281.81,342.38 L282.87,342.26 L283.93,342.12 L284.99,341.99 L286.05,341.85 L287.11,341.70 L288.17,341.55 L289.23,341.38 L290.29,341.21 L291.35,341.04 L292.41,340.85 L293.47,340.65 L294.53,340.45 L295.59,340.24 L296.65,340.01 L297.71,339.78 L298.77,339.54 L299.83,339.29 L300.89,339.04 L301.95,338.77 L303.01,338.50 L304.07,338.21 L305.13,337.92 L306.19,337.63 L307.25,337.32 L308.31,336.99 L309.37,336.65 L310.43,336.30 L311.49,335.92 L312.55,335.53 L313.61,335.11 L314.67,334.67 L315.72,334.20 L316.78,333.71 L317.84,333.18 L318.90,332.63 L319.96,332.04 L321.02,331.41 L322.08,330.74 L323.14,330.01 L324.20,329.22 L325.26,328.36 L326.32,327.44 L327.38,326.44 L328.44,325.36 L329.50,324.18 L330.56,322.92 L331.62,321.55 L332.68,320.05 L333.74,318.41 L334.80,316.62 L335.86,314.67 L336.92,312.56 L337.98,310.25 L339.04,307.72 L340.10,305.00 L341.16,302.13 L342.22,299.20 L343.28,296.27 L344.34,293.29 L345.40,290.29 L346.46,287.29 L347.52,284.31 L348.58,281.31 L349.64,278.24 L350.70,275.11 L351.76,271.95 L352.82,268.75 L353.88,265.43 L354.94,261.98 L356.00,258.40 L357.06,254.81 L358.12,251.33 L359.18,247.93 L360.24,244.58 L361.30,241.25 L362.36,237.81 L363.42,233.99 L364.48,229.54 L365.54,224.72 L366.60,221.13 L367.66,218.65 L368.72,216.52 L369.78,214.69 L370.84,213.11 L371.90,211.75 L372.96,210.58 L374.02,209.56 L375.08,208.69 L376.14,207.93 L377.20,207.27 L378.26,206.69 L379.32,206.19 L380.38,205.75 L381.44,205.37 L382.50,205.03 L383.56,204.74 L384.62,204.48 L385.68,204.25 L386.74,204.04 L387.80,203.86 L388.86,203.69 L389.92,203.55 L390.98,203.41 L392.04,203.29 L393.10,203.18 L394.16,203.08 L395.22,202.98 L396.28,202.90 L397.34,202.82 L398.40,202.74 L399.46,202.67 L400.51,202.60 L401.57,202.53 L402.63,202.47 L403.69,202.41 L404.75,202.36 L405.81,202.30 L406.87,202.25 L407.93,202.20 L408.99,202.15 L410.05,202.10 L411.11,202.06 L412.17,202.02 L413.23,201.98 L414.29,201.93 L415.35,201.90 L416.41,201.86 L417.47,201.82 L418.53,201.78 L419.59,201.74 L420.65,201.71 L421.71,201.67 L422.77,201.64 L423.83,201.61 L424.89,201.58 L425.95,201.55 L427.01,201.52 L428.07,201.50 L429.13,201.47 L430.19,201.45 L431.25,201.43 L432.31,201.41 L433.37,201.39 L434.43,201.37 L435.49,201.36 L436.55,201.34 L437.61,201.32 L438.67,201.31 L439.73,201.29 L440.79,201.28 L441.85,201.26 L442.91,201.25 L443.97,201.23 L445.03,201.22 L446.09,201.20 L447.15,201.18 L448.21,201.17 L449.27,201.15 L450.33,201.14 L451.39,201.12 L452.45,201.11 L453.51,201.09 L454.57,201.08 L455.63,201.06 L456.69,201.05 L457.75,201.04 L458.81,201.02 L459.87,201.01 L460.93,201.00 L461.99,200.98 L463.05,200.97 L464.11,200.96 L465.17,200.95 L466.23,200.93 L467.29,200.92 L468.35,200.91 L469.41,200.90 L470.47,200.89 L471.53,200.88 L472.59,200.87 L473.65,200.86 L474.71,200.85 L475.77,200.84 L476.83,200.83 L477.89,200.82 L478.95,200.81 L480.01,200.80 L481.07,200.79 L482.13,200.78 L483.19,200.77 L484.25,200.76 L485.30,200.75 L486.36,200.74 L487.42,200.73 L488.48,200.73 L489.54,200.72 L490.60,200.71 L491.66,200.70 L492.72,200.69 L493.78,200.69 L494.84,200.68 L495.90,200.67 L496.96,200.66 L498.02,200.66 L499.08,200.65 L500.14,200.64 L501.20,200.63 L502.26,200.63 L503.32,200.62 L504.38,200.61 L505.44,200.61 L506.50,200.60 L507.56,200.59 L508.62,200.59 L509.68,200.58 L510.74,200.58 L511.80,200.57 L512.86,200.57 L513.92,200.56 L514.98,200.55 L516.04,200.55 L517.10,200.54 L518.16,200.54 L519.22,200.53 L520.28,200.53 L521.34,200.52 L522.40,200.52 L523.46,200.52 L524.52,200.52 L525.58,200.51 L526.64,200.51 L527.24,200.51" fill="none" stroke="#2aaa40" stroke-width="4.2" stroke-linecap="butt" stroke-linejoin="round"/>
<path d="M102.25,346.79 L103.75,346.79 L104.81,346.79 L105.87,346.79 L106.93,346.79 L107.99,346.79 L109.05,346.80 L110.11,346.80 L111.17,346.80 L112.23,346.80 L113.29,346.80 L114.35,346.80 L115.41,346.80 L116.47,346.80 L117.53,346.80 L118.59,346.80 L119.65,346.81 L120.71,346.81 L121.77,346.81 L122.83,346.81 L123.89,346.81 L124.95,346.81 L126.01,346.81 L127.07,346.81 L128.13,346.81 L129.19,346.81 L130.25,346.81 L131.31,346.81 L132.37,346.81 L133.43,346.81 L134.49,346.81 L135.55,346.80 L136.61,346.80 L137.67,346.80 L138.73,346.80 L139.79,346.80 L140.85,346.80 L141.91,346.80 L142.97,346.80 L144.03,346.80 L145.09,346.80 L146.14,346.79 L147.20,346.79 L148.26,346.79 L149.32,346.79 L150.38,346.79 L151.44,346.79 L152.50,346.79 L153.56,346.78 L154.62,346.78 L155.68,346.78 L156.74,346.78 L157.80,346.78 L158.86,346.77 L159.92,346.77 L160.98,346.77 L162.04,346.77 L163.10,346.76 L164.16,346.76 L165.22,346.76 L166.28,346.76 L167.34,346.75 L168.40,346.75 L169.46,346.75 L170.52,346.74 L171.58,346.74 L172.64,346.73 L173.70,346.73 L174.76,346.73 L175.82,346.72 L176.88,346.72 L177.94,346.71 L179.00,346.71 L180.06,346.70 L181.12,346.70 L182.18,346.69 L183.24,346.68 L184.30,346.68 L185.36,346.67 L186.42,346.67 L187.48,346.66 L188.54,346.65 L189.60,346.65 L190.66,346.64 L191.72,346.63 L192.78,346.63 L193.84,346.62 L194.90,346.61 L195.96,346.61 L197.02,346.60 L198.08,346.59 L199.14,346.58 L200.20,346.58 L201.26,346.57 L202.32,346.56 L203.38,346.55 L204.44,346.54 L205.50,346.53 L206.56,346.52 L207.62,346.51 L208.68,346.50 L209.74,346.49 L210.80,346.48 L211.86,346.47 L212.92,346.46 L213.98,346.44 L215.04,346.43 L216.10,346.42 L217.16,346.40 L218.22,346.39 L219.28,346.38 L220.34,346.36 L221.40,346.35 L222.46,346.33 L223.52,346.32 L224.58,346.30 L225.64,346.28 L226.70,346.27 L227.76,346.25 L228.82,346.23 L229.88,346.22 L230.93,346.20 L231.99,346.18 L233.05,346.16 L234.11,346.15 L235.17,346.13 L236.23,346.11 L237.29,346.09 L238.35,346.07 L239.41,346.05 L240.47,346.03 L241.53,346.01 L242.59,345.99 L243.65,345.97 L244.71,345.95 L245.77,345.93 L246.83,345.91 L247.89,345.89 L248.95,345.87 L250.01,345.85 L251.07,345.82 L252.13,345.80 L253.19,345.77 L254.25,345.75 L255.31,345.72 L256.37,345.69 L257.43,345.66 L258.49,345.63 L259.55,345.60 L260.61,345.57 L261.67,345.54 L262.73,345.50 L263.79,345.47 L264.85,345.43 L265.91,345.40 L266.97,345.36 L268.03,345.32 L269.09,345.28 L270.15,345.24 L271.21,345.19 L272.27,345.15 L273.33,345.11 L274.39,345.06 L275.45,345.01 L276.51,344.96 L277.57,344.91 L278.63,344.86 L279.69,344.80 L280.75,344.75 L281.81,344.69 L282.87,344.63 L283.93,344.57 L284.99,344.51 L286.05,344.44 L287.11,344.37 L288.17,344.30 L289.23,344.22 L290.29,344.14 L291.35,344.06 L292.41,343.97 L293.47,343.87 L294.53,343.78 L295.59,343.68 L296.65,343.57 L297.71,343.46 L298.77,343.35 L299.83,343.23 L300.89,343.10 L301.95,342.98 L303.01,342.84 L304.07,342.71 L305.13,342.57 L306.19,342.42 L307.25,342.27 L308.31,342.12 L309.37,341.96 L310.43,341.79 L311.49,341.62 L312.55,341.43 L313.61,341.23 L314.67,341.01 L315.72,340.78 L316.78,340.54 L317.84,340.28 L318.90,340.00 L319.96,339.71 L321.02,339.39 L322.08,339.05 L323.14,338.70 L324.20,338.32 L325.26,337.91 L326.32,337.48 L327.38,337.01 L328.44,336.49 L329.50,335.91 L330.56,335.27 L331.62,334.57 L332.68,333.78 L333.74,332.91 L334.80,331.96 L335.86,330.90 L336.92,329.70 L337.98,328.36 L339.04,326.88 L340.10,325.23 L341.16,323.44 L342.22,321.50 L343.28,319.39 L344.34,317.12 L345.40,314.68 L346.46,312.05 L347.52,309.18 L348.58,306.02 L349.64,302.60 L350.70,299.03 L351.76,295.34 L352.82,291.46 L353.88,287.38 L354.94,283.17 L356.00,278.73 L357.06,274.00 L358.12,269.07 L359.18,263.75 L360.24,257.98 L361.30,252.12 L362.36,246.41 L363.42,240.74 L364.48,234.51 L365.54,226.59 L366.60,220.38 L367.66,216.64 L368.72,213.61 L369.78,211.16 L370.84,209.17 L371.90,207.56 L372.96,206.25 L374.02,205.19 L375.08,204.34 L376.14,203.64 L377.20,203.07 L378.26,202.62 L379.32,202.24 L380.38,201.94 L381.44,201.69 L382.50,201.49 L383.56,201.33 L384.62,201.20 L385.68,201.09 L386.74,201.01 L387.80,200.93 L388.86,200.88 L389.92,200.83 L390.98,200.79 L392.04,200.76 L393.10,200.73 L394.16,200.71 L395.22,200.69 L396.28,200.67 L397.34,200.66 L398.40,200.65 L399.46,200.64 L400.51,200.63 L401.57,200.63 L402.63,200.62 L403.69,200.61 L404.75,200.61 L405.81,200.60 L406.87,200.60 L407.93,200.60 L408.99,200.59 L410.05,200.59 L411.11,200.59 L412.17,200.59 L413.23,200.58 L414.29,200.58 L415.35,200.58 L416.41,200.58 L417.47,200.57 L418.53,200.57 L419.59,200.57 L420.65,200.57 L421.71,200.57 L422.77,200.56 L423.83,200.56 L424.89,200.56 L425.95,200.56 L427.01,200.56 L428.07,200.56 L429.13,200.55 L430.19,200.55 L431.25,200.55 L432.31,200.55 L433.37,200.55 L434.43,200.55 L435.49,200.55 L436.55,200.55 L437.61,200.55 L438.67,200.54 L439.73,200.54 L440.79,200.54 L441.85,200.54 L442.91,200.54 L443.97,200.54 L445.03,200.54 L446.09,200.54 L447.15,200.54 L448.21,200.54 L449.27,200.54 L450.33,200.54 L451.39,200.53 L452.45,200.53 L453.51,200.53 L454.57,200.53 L455.63,200.53 L456.69,200.53 L457.75,200.53 L458.81,200.53 L459.87,200.53 L460.93,200.53 L461.99,200.53 L463.05,200.53 L464.11,200.53 L465.17,200.52 L466.23,200.52 L467.29,200.52 L468.35,200.52 L469.41,200.52 L470.47,200.52 L471.53,200.52 L472.59,200.52 L473.65,200.52 L474.71,200.52 L475.77,200.52 L476.83,200.52 L477.89,200.52 L478.95,200.52 L480.01,200.52 L481.07,200.52 L482.13,200.52 L483.19,200.51 L484.25,200.51 L485.30,200.51 L486.36,200.51 L487.42,200.51 L488.48,200.51 L489.54,200.51 L490.60,200.51 L491.66,200.51 L492.72,200.51 L493.78,200.51 L494.84,200.51 L495.90,200.51 L496.96,200.51 L498.02,200.51 L499.08,200.51 L500.14,200.51 L501.20,200.51 L502.26,200.51 L503.32,200.51 L504.38,200.51 L505.44,200.51 L506.50,200.51 L507.56,200.51 L508.62,200.50 L509.68,200.50 L510.74,200.50 L511.80,200.50 L512.86,200.50 L513.92,200.50 L514.98,200.50 L516.04,200.50 L517.10,200.50 L518.16,200.50 L519.22,200.50 L520.28,200.50 L521.34,200.50 L522.40,200.50 L523.46,200.50 L524.52,200.50 L525.58,200.50 L526.64,200.50 L527.24,200.50" fill="none" stroke="#00991a" stroke-width="4.2" stroke-linecap="butt" stroke-linejoin="round"/>
<path d="M102.45,200.50 H527.14 M102.45,346.80 H527.14" stroke="#000" stroke-opacity="0.4" stroke-width="2.7" fill="none"/>
<path d="M366.27,187.20 V360.10" stroke="#000" stroke-opacity="0.4" stroke-width="2.7" fill="none"/>
<path d="M352.45,193.50 V360.10" stroke="#000" stroke-opacity="0.5" stroke-width="2.5" stroke-dasharray="9.7 10" fill="none"/>
<path d="M103.75,185.90 v4.9 M103.75,361.40 v-4.9 M120.02,185.90 v3.2 M120.02,361.40 v-3.2 M136.28,185.90 v3.2 M136.28,361.40 v-3.2 M152.55,185.90 v3.2 M152.55,361.40 v-3.2 M168.81,185.90 v4.9 M168.81,361.40 v-4.9 M185.07,185.90 v3.2 M185.07,361.40 v-3.2 M201.34,185.90 v3.2 M201.34,361.40 v-3.2 M217.61,185.90 v3.2 M217.61,361.40 v-3.2 M233.87,185.90 v4.9 M233.87,361.40 v-4.9 M250.14,185.90 v3.2 M250.14,361.40 v-3.2 M266.40,185.90 v3.2 M266.40,361.40 v-3.2 M282.67,185.90 v3.2 M282.67,361.40 v-3.2 M298.93,185.90 v4.9 M298.93,361.40 v-4.9 M315.20,185.90 v3.2 M315.20,361.40 v-3.2 M331.46,185.90 v3.2 M331.46,361.40 v-3.2 M347.73,185.90 v3.2 M347.73,361.40 v-3.2 M363.99,185.90 v4.9 M363.99,361.40 v-4.9 M380.26,185.90 v3.2 M380.26,361.40 v-3.2 M396.52,185.90 v3.2 M396.52,361.40 v-3.2 M412.79,185.90 v3.2 M412.79,361.40 v-3.2 M429.05,185.90 v4.9 M429.05,361.40 v-4.9 M445.32,185.90 v3.2 M445.32,361.40 v-3.2 M461.58,185.90 v3.2 M461.58,361.40 v-3.2 M477.85,185.90 v3.2 M477.85,361.40 v-3.2 M494.11,185.90 v4.9 M494.11,361.40 v-4.9 M510.38,185.90 v3.2 M510.38,361.40 v-3.2 M526.64,185.90 v3.2 M526.64,361.40 v-3.2 M95.15,354.12 h3.2 M533.65,354.12 h-3.2 M95.15,346.80 h4.9 M533.65,346.80 h-4.9 M95.15,339.49 h3.2 M533.65,339.49 h-3.2 M95.15,332.17 h3.2 M533.65,332.17 h-3.2 M95.15,324.86 h3.2 M533.65,324.86 h-3.2 M95.15,317.54 h4.9 M533.65,317.54 h-4.9 M95.15,310.23 h3.2 M533.65,310.23 h-3.2 M95.15,302.91 h3.2 M533.65,302.91 h-3.2 M95.15,295.60 h3.2 M533.65,295.60 h-3.2 M95.15,288.28 h4.9 M533.65,288.28 h-4.9 M95.15,280.97 h3.2 M533.65,280.97 h-3.2 M95.15,273.65 h3.2 M533.65,273.65 h-3.2 M95.15,266.33 h3.2 M533.65,266.33 h-3.2 M95.15,259.02 h4.9 M533.65,259.02 h-4.9 M95.15,251.71 h3.2 M533.65,251.71 h-3.2 M95.15,244.39 h3.2 M533.65,244.39 h-3.2 M95.15,237.07 h3.2 M533.65,237.07 h-3.2 M95.15,229.76 h4.9 M533.65,229.76 h-4.9 M95.15,222.44 h3.2 M533.65,222.44 h-3.2 M95.15,215.13 h3.2 M533.65,215.13 h-3.2 M95.15,207.81 h3.2 M533.65,207.81 h-3.2 M95.15,200.50 h4.9 M533.65,200.50 h-4.9 M95.15,193.19 h3.2 M533.65,193.19 h-3.2" stroke="#000" stroke-width="2.1" fill="none"/>
<rect x="95.15" y="185.9" width="438.50" height="175.5" fill="none" stroke="#000" stroke-width="2.65"/>
<text transform="translate(89.20,353.10) scale(1.06,1)" text-anchor="end" class="tk">1.0</text>
<text transform="translate(89.20,323.84) scale(1.06,1)" text-anchor="end" class="tk">1.2</text>
<text transform="translate(89.20,294.58) scale(1.06,1)" text-anchor="end" class="tk">1.4</text>
<text transform="translate(89.20,265.32) scale(1.06,1)" text-anchor="end" class="tk">1.6</text>
<text transform="translate(89.20,236.06) scale(1.06,1)" text-anchor="end" class="tk">1.8</text>
<text transform="translate(89.20,206.80) scale(1.06,1)" text-anchor="end" class="tk">2.0</text>
<text transform="translate(23.1,271.05) rotate(-90) scale(1.13,1)" text-anchor="middle" class="ax">Z</text>
<text transform="translate(105.1,217.05)" font-size="32.3" class="pl">(</text><text transform="translate(116.9,218.40) scale(1.08,1)" font-size="34.5" class="pl">b</text><text transform="translate(134.1,217.05)" font-size="32.3" class="pl">)</text>
</g>
<g id="panel-c">
<path d="M102.25,531.70 L103.75,531.70 L104.81,531.70 L105.87,531.70 L106.93,531.70 L107.99,531.70 L109.05,531.69 L110.11,531.69 L111.17,531.69 L112.23,531.69 L113.29,531.68 L114.35,531.68 L115.41,531.67 L116.47,531.67 L117.53,531.67 L118.59,531.66 L119.65,531.66 L120.71,531.65 L121.77,531.65 L122.83,531.64 L123.89,531.63 L124.95,531.62 L126.01,531.62 L127.07,531.60 L128.13,531.59 L129.19,531.58 L130.25,531.57 L131.31,531.55 L132.37,531.54 L133.43,531.53 L134.49,531.51 L135.55,531.49 L136.61,531.47 L137.67,531.45 L138.73,531.43 L139.79,531.40 L140.85,531.37 L141.91,531.34 L142.97,531.31 L144.03,531.27 L145.09,531.23 L146.14,531.19 L147.20,531.14 L148.26,531.10 L149.32,531.05 L150.38,531.00 L151.44,530.95 L152.50,530.90 L153.56,530.84 L154.62,530.78 L155.68,530.72 L156.74,530.65 L157.80,530.57 L158.86,530.50 L159.92,530.41 L160.98,530.33 L162.04,530.24 L163.10,530.14 L164.16,530.05 L165.22,529.95 L166.28,529.84 L167.34,529.73 L168.40,529.62 L169.46,529.51 L170.52,529.38 L171.58,529.25 L172.64,529.11 L173.70,528.97 L174.76,528.81 L175.82,528.65 L176.88,528.48 L177.94,528.31 L179.00,528.13 L180.06,527.94 L181.12,527.75 L182.18,527.55 L183.24,527.35 L184.30,527.14 L185.36,526.93 L186.42,526.71 L187.48,526.48 L188.54,526.23 L189.60,525.98 L190.66,525.72 L191.72,525.44 L192.78,525.16 L193.84,524.87 L194.90,524.57 L195.96,524.26 L197.02,523.95 L198.08,523.63 L199.14,523.31 L200.20,522.98 L201.26,522.64 L202.32,522.30 L203.38,521.94 L204.44,521.58 L205.50,521.21 L206.56,520.82 L207.62,520.42 L208.68,520.02 L209.74,519.60 L210.80,519.18 L211.86,518.75 L212.92,518.31 L213.98,517.86 L215.04,517.40 L216.10,516.94 L217.16,516.47 L218.22,515.99 L219.28,515.49 L220.34,514.99 L221.40,514.47 L222.46,513.93 L223.52,513.39 L224.58,512.83 L225.64,512.26 L226.70,511.69 L227.76,511.10 L228.82,510.51 L229.88,509.91 L230.93,509.30 L231.99,508.69 L233.05,508.07 L234.11,507.45 L235.17,506.81 L236.23,506.17 L237.29,505.53 L238.35,504.87 L239.41,504.20 L240.47,503.52 L241.53,502.83 L242.59,502.14 L243.65,501.43 L244.71,500.71 L245.77,499.99 L246.83,499.25 L247.89,498.50 L248.95,497.74 L250.01,496.97 L251.07,496.18 L252.13,495.38 L253.19,494.55 L254.25,493.71 L255.31,492.86 L256.37,491.99 L257.43,491.11 L258.49,490.21 L259.55,489.31 L260.61,488.41 L261.67,487.50 L262.73,486.58 L263.79,485.67 L264.85,484.75 L265.91,483.84 L266.97,482.93 L268.03,482.01 L269.09,481.09 L270.15,480.16 L271.21,479.22 L272.27,478.28 L273.33,477.33 L274.39,476.38 L275.45,475.43 L276.51,474.47 L277.57,473.52 L278.63,472.57 L279.69,471.61 L280.75,470.66 L281.81,469.71 L282.87,468.77 L283.93,467.83 L284.99,466.88 L286.05,465.93 L287.11,464.98 L288.17,464.03 L289.23,463.08 L290.29,462.13 L291.35,461.18 L292.41,460.23 L293.47,459.29 L294.53,458.35 L295.59,457.41 L296.65,456.48 L297.71,455.55 L298.77,454.62 L299.83,453.70 L300.89,452.78 L301.95,451.86 L303.01,450.94 L304.07,450.03 L305.13,449.11 L306.19,448.20 L307.25,447.29 L308.31,446.39 L309.37,445.49 L310.43,444.60 L311.49,443.72 L312.55,442.85 L313.61,441.98 L314.67,441.13 L315.72,440.28 L316.78,439.44 L317.84,438.61 L318.90,437.79 L319.96,436.98 L321.02,436.17 L322.08,435.36 L323.14,434.57 L324.20,433.77 L325.26,432.98 L326.32,432.20 L327.38,431.42 L328.44,430.65 L329.50,429.87 L330.56,429.11 L331.62,428.34 L332.68,427.57 L333.74,426.80 L334.80,426.03 L335.86,425.26 L336.92,424.49 L337.98,423.73 L339.04,422.97 L340.10,422.22 L341.16,421.48 L342.22,420.74 L343.28,420.02 L344.34,419.31 L345.40,418.61 L346.46,417.94 L347.52,417.27 L348.58,416.62 L349.64,415.98 L350.70,415.34 L351.76,414.70 L352.82,414.08 L353.88,413.46 L354.94,412.85 L356.00,412.26 L357.06,411.67 L358.12,411.10 L359.18,410.54 L360.24,410.00 L361.30,409.47 L362.36,408.97 L363.42,408.48 L364.48,408.01 L365.54,407.55 L366.60,407.11 L367.66,406.68 L368.72,406.27 L369.78,405.86 L370.84,405.46 L371.90,405.07 L372.96,404.69 L374.02,404.32 L375.08,403.95 L376.14,403.59 L377.20,403.23 L378.26,402.88 L379.32,402.53 L380.38,402.18 L381.44,401.84 L382.50,401.50 L383.56,401.17 L384.62,400.84 L385.68,400.52 L386.74,400.20 L387.80,399.89 L388.86,399.58 L389.92,399.28 L390.98,398.98 L392.04,398.68 L393.10,398.39 L394.16,398.10 L395.22,397.82 L396.28,397.53 L397.34,397.26 L398.40,396.98 L399.46,396.71 L400.51,396.43 L401.57,396.16 L402.63,395.90 L403.69,395.64 L404.75,395.38 L405.81,395.12 L406.87,394.87 L407.93,394.63 L408.99,394.39 L410.05,394.16 L411.11,393.93 L412.17,393.72 L413.23,393.50 L414.29,393.29 L415.35,393.08 L416.41,392.88 L417.47,392.67 L418.53,392.47 L419.59,392.28 L420.65,392.08 L421.71,391.90 L422.77,391.72 L423.83,391.55 L424.89,391.38 L425.95,391.22 L427.01,391.07 L428.07,390.93 L429.13,390.80 L430.19,390.68 L431.25,390.57 L432.31,390.46 L433.37,390.35 L434.43,390.25 L435.49,390.16 L436.55,390.06 L437.61,389.97 L438.67,389.89 L439.73,389.80 L440.79,389.71 L441.85,389.63 L442.91,389.55 L443.97,389.46 L445.03,389.37 L446.09,389.29 L447.15,389.20 L448.21,389.11 L449.27,389.03 L450.33,388.94 L451.39,388.86 L452.45,388.77 L453.51,388.69 L454.57,388.61 L455.63,388.53 L456.69,388.45 L457.75,388.37 L458.81,388.30 L459.87,388.22 L460.93,388.15 L461.99,388.08 L463.05,388.01 L464.11,387.94 L465.17,387.88 L466.23,387.81 L467.29,387.74 L468.35,387.68 L469.41,387.62 L470.47,387.56 L471.53,387.50 L472.59,387.44 L473.65,387.38 L474.71,387.32 L475.77,387.26 L476.83,387.21 L477.89,387.15 L478.95,387.10 L480.01,387.05 L481.07,387.00 L482.13,386.95 L483.19,386.90 L484.25,386.85 L485.30,386.80 L486.36,386.75 L487.42,386.70 L488.48,386.66 L489.54,386.61 L490.60,386.57 L491.66,386.52 L492.72,386.48 L493.78,386.44 L494.84,386.39 L495.90,386.35 L496.96,386.31 L498.02,386.27 L499.08,386.23 L500.14,386.19 L501.20,386.15 L502.26,386.11 L503.32,386.07 L504.38,386.03 L505.44,385.99 L506.50,385.96 L507.56,385.92 L508.62,385.89 L509.68,385.86 L510.74,385.83 L511.80,385.80 L512.86,385.77 L513.92,385.74 L514.98,385.70 L516.04,385.67 L517.10,385.64 L518.16,385.61 L519.22,385.59 L520.28,385.56 L521.34,385.54 L522.40,385.52 L523.46,385.50 L524.52,385.49 L525.58,385.48 L526.64,385.47 L527.24,385.47" fill="none" stroke="#dbe3f6" stroke-width="4.2" stroke-linecap="butt" stroke-linejoin="round"/>
<path d="M102.25,531.54 L103.75,531.54 L104.81,531.55 L105.87,531.56 L106.93,531.57 L107.99,531.58 L109.05,531.59 L110.11,531.60 L111.17,531.61 L112.23,531.61 L113.29,531.62 L114.35,531.63 L115.41,531.64 L116.47,531.64 L117.53,531.65 L118.59,531.66 L119.65,531.67 L120.71,531.67 L121.77,531.68 L122.83,531.68 L123.89,531.69 L124.95,531.69 L126.01,531.70 L127.07,531.71 L128.13,531.71 L129.19,531.72 L130.25,531.72 L131.31,531.72 L132.37,531.73 L133.43,531.73 L134.49,531.73 L135.55,531.73 L136.61,531.73 L137.67,531.73 L138.73,531.73 L139.79,531.73 L140.85,531.73 L141.91,531.73 L142.97,531.72 L144.03,531.72 L145.09,531.71 L146.14,531.71 L147.20,531.70 L148.26,531.69 L149.32,531.69 L150.38,531.68 L151.44,531.67 L152.50,531.65 L153.56,531.64 L154.62,531.62 L155.68,531.60 L156.74,531.58 L157.80,531.55 L158.86,531.53 L159.92,531.50 L160.98,531.47 L162.04,531.44 L163.10,531.40 L164.16,531.37 L165.22,531.33 L166.28,531.29 L167.34,531.25 L168.40,531.21 L169.46,531.17 L170.52,531.12 L171.58,531.07 L172.64,531.01 L173.70,530.96 L174.76,530.89 L175.82,530.83 L176.88,530.76 L177.94,530.69 L179.00,530.61 L180.06,530.53 L181.12,530.45 L182.18,530.37 L183.24,530.28 L184.30,530.19 L185.36,530.10 L186.42,530.01 L187.48,529.91 L188.54,529.81 L189.60,529.70 L190.66,529.59 L191.72,529.47 L192.78,529.35 L193.84,529.22 L194.90,529.09 L195.96,528.96 L197.02,528.82 L198.08,528.67 L199.14,528.53 L200.20,528.38 L201.26,528.23 L202.32,528.07 L203.38,527.92 L204.44,527.76 L205.50,527.60 L206.56,527.44 L207.62,527.28 L208.68,527.11 L209.74,526.94 L210.80,526.77 L211.86,526.58 L212.92,526.40 L213.98,526.21 L215.04,526.02 L216.10,525.82 L217.16,525.62 L218.22,525.42 L219.28,525.21 L220.34,525.00 L221.40,524.79 L222.46,524.58 L223.52,524.36 L224.58,524.14 L225.64,523.92 L226.70,523.70 L227.76,523.47 L228.82,523.24 L229.88,523.01 L230.93,522.78 L231.99,522.54 L233.05,522.30 L234.11,522.05 L235.17,521.79 L236.23,521.53 L237.29,521.27 L238.35,520.99 L239.41,520.71 L240.47,520.42 L241.53,520.13 L242.59,519.83 L243.65,519.52 L244.71,519.20 L245.77,518.88 L246.83,518.54 L247.89,518.20 L248.95,517.85 L250.01,517.48 L251.07,517.11 L252.13,516.73 L253.19,516.34 L254.25,515.93 L255.31,515.50 L256.37,515.05 L257.43,514.59 L258.49,514.11 L259.55,513.60 L260.61,513.08 L261.67,512.54 L262.73,511.98 L263.79,511.39 L264.85,510.78 L265.91,510.16 L266.97,509.51 L268.03,508.83 L269.09,508.14 L270.15,507.42 L271.21,506.68 L272.27,505.91 L273.33,505.12 L274.39,504.30 L275.45,503.45 L276.51,502.57 L277.57,501.66 L278.63,500.73 L279.69,499.76 L280.75,498.77 L281.81,497.74 L282.87,496.69 L283.93,495.59 L284.99,494.44 L286.05,493.25 L287.11,492.03 L288.17,490.78 L289.23,489.50 L290.29,488.21 L291.35,486.90 L292.41,485.58 L293.47,484.26 L294.53,482.95 L295.59,481.62 L296.65,480.28 L297.71,478.93 L298.77,477.57 L299.83,476.22 L300.89,474.86 L301.95,473.51 L303.01,472.17 L304.07,470.84 L305.13,469.53 L306.19,468.24 L307.25,466.96 L308.31,465.69 L309.37,464.42 L310.43,463.16 L311.49,461.91 L312.55,460.67 L313.61,459.43 L314.67,458.20 L315.72,456.97 L316.78,455.74 L317.84,454.52 L318.90,453.30 L319.96,452.07 L321.02,450.83 L322.08,449.58 L323.14,448.32 L324.20,447.05 L325.26,445.77 L326.32,444.48 L327.38,443.19 L328.44,441.89 L329.50,440.58 L330.56,439.28 L331.62,437.98 L332.68,436.68 L333.74,435.40 L334.80,434.14 L335.86,432.88 L336.92,431.65 L337.98,430.45 L339.04,429.27 L340.10,428.12 L341.16,427.00 L342.22,425.91 L343.28,424.86 L344.34,423.85 L345.40,422.87 L346.46,421.92 L347.52,420.98 L348.58,420.06 L349.64,419.13 L350.70,418.19 L351.76,417.24 L352.82,416.27 L353.88,415.26 L354.94,414.21 L356.00,413.16 L357.06,412.11 L358.12,411.09 L359.18,410.20 L360.24,409.35 L361.30,408.55 L362.36,407.79 L363.42,407.08 L364.48,406.41 L365.54,405.77 L366.60,405.16 L367.66,404.59 L368.72,404.04 L369.78,403.51 L370.84,403.01 L371.90,402.53 L372.96,402.07 L374.02,401.62 L375.08,401.20 L376.14,400.78 L377.20,400.39 L378.26,400.00 L379.32,399.62 L380.38,399.26 L381.44,398.90 L382.50,398.55 L383.56,398.22 L384.62,397.89 L385.68,397.57 L386.74,397.27 L387.80,396.97 L388.86,396.67 L389.92,396.39 L390.98,396.11 L392.04,395.84 L393.10,395.58 L394.16,395.32 L395.22,395.06 L396.28,394.82 L397.34,394.58 L398.40,394.34 L399.46,394.10 L400.51,393.87 L401.57,393.64 L402.63,393.42 L403.69,393.20 L404.75,392.99 L405.81,392.78 L406.87,392.57 L407.93,392.38 L408.99,392.18 L410.05,391.99 L411.11,391.81 L412.17,391.64 L413.23,391.47 L414.29,391.30 L415.35,391.13 L416.41,390.97 L417.47,390.81 L418.53,390.65 L419.59,390.49 L420.65,390.34 L421.71,390.20 L422.77,390.06 L423.83,389.92 L424.89,389.79 L425.95,389.67 L427.01,389.55 L428.07,389.44 L429.13,389.34 L430.19,389.25 L431.25,389.16 L432.31,389.07 L433.37,388.99 L434.43,388.91 L435.49,388.84 L436.55,388.76 L437.61,388.69 L438.67,388.62 L439.73,388.56 L440.79,388.49 L441.85,388.42 L442.91,388.36 L443.97,388.29 L445.03,388.22 L446.09,388.16 L447.15,388.09 L448.21,388.02 L449.27,387.96 L450.33,387.89 L451.39,387.82 L452.45,387.76 L453.51,387.70 L454.57,387.63 L455.63,387.57 L456.69,387.51 L457.75,387.45 L458.81,387.39 L459.87,387.33 L460.93,387.28 L461.99,387.22 L463.05,387.17 L464.11,387.12 L465.17,387.06 L466.23,387.01 L467.29,386.96 L468.35,386.91 L469.41,386.87 L470.47,386.82 L471.53,386.77 L472.59,386.72 L473.65,386.68 L474.71,386.63 L475.77,386.59 L476.83,386.55 L477.89,386.50 L478.95,386.46 L480.01,386.42 L481.07,386.38 L482.13,386.34 L483.19,386.30 L484.25,386.26 L485.30,386.23 L486.36,386.19 L487.42,386.15 L488.48,386.11 L489.54,386.08 L490.60,386.04 L491.66,386.01 L492.72,385.97 L493.78,385.94 L494.84,385.91 L495.90,385.87 L496.96,385.84 L498.02,385.81 L499.08,385.77 L500.14,385.74 L501.20,385.71 L502.26,385.68 L503.32,385.65 L504.38,385.62 L505.44,385.59 L506.50,385.56 L507.56,385.53 L508.62,385.51 L509.68,385.48 L510.74,385.46 L511.80,385.43 L512.86,385.41 L513.92,385.38 L514.98,385.36 L516.04,385.33 L517.10,385.31 L518.16,385.28 L519.22,385.26 L520.28,385.24 L521.34,385.22 L522.40,385.20 L523.46,385.19 L524.52,385.18 L525.58,385.17 L526.64,385.16 L527.24,385.16" fill="none" stroke="#b7c8ee" stroke-width="4.2" stroke-linecap="butt" stroke-linejoin="round"/>
<path d="M102.25,531.53 L103.75,531.53 L104.81,531.55 L105.87,531.57 L106.93,531.58 L107.99,531.60 L109.05,531.61 L110.11,531.63 L111.17,531.64 L112.23,531.65 L113.29,531.67 L114.35,531.68 L115.41,531.69 L116.47,531.70 L117.53,531.72 L118.59,531.73 L119.65,531.74 L120.71,531.75 L121.77,531.76 L122.83,531.77 L123.89,531.78 L124.95,531.78 L126.01,531.79 L127.07,531.80 L128.13,531.81 L129.19,531.81 L130.25,531.82 L131.31,531.83 L132.37,531.83 L133.43,531.84 L134.49,531.84 L135.55,531.85 L136.61,531.85 L137.67,531.86 L138.73,531.86 L139.79,531.86 L140.85,531.87 L141.91,531.87 L142.97,531.87 L144.03,531.87 L145.09,531.87 L146.14,531.87 L147.20,531.87 L148.26,531.87 L149.32,531.87 L150.38,531.86 L151.44,531.86 L152.50,531.86 L153.56,531.85 L154.62,531.85 L155.68,531.84 L156.74,531.83 L157.80,531.83 L158.86,531.82 L159.92,531.81 L160.98,531.80 L162.04,531.79 L163.10,531.78 L164.16,531.77 L165.22,531.75 L166.28,531.74 L167.34,531.72 L168.40,531.71 L169.46,531.69 L170.52,531.67 L171.58,531.64 L172.64,531.62 L173.70,531.59 L174.76,531.56 L175.82,531.53 L176.88,531.50 L177.94,531.47 L179.00,531.43 L180.06,531.39 L181.12,531.36 L182.18,531.32 L183.24,531.28 L184.30,531.24 L185.36,531.19 L186.42,531.15 L187.48,531.10 L188.54,531.06 L189.60,531.01 L190.66,530.96 L191.72,530.90 L192.78,530.84 L193.84,530.79 L194.90,530.72 L195.96,530.66 L197.02,530.59 L198.08,530.53 L199.14,530.46 L200.20,530.39 L201.26,530.31 L202.32,530.24 L203.38,530.17 L204.44,530.09 L205.50,530.01 L206.56,529.94 L207.62,529.86 L208.68,529.78 L209.74,529.70 L210.80,529.62 L211.86,529.54 L212.92,529.45 L213.98,529.36 L215.04,529.27 L216.10,529.18 L217.16,529.09 L218.22,528.99 L219.28,528.89 L220.34,528.79 L221.40,528.69 L222.46,528.59 L223.52,528.49 L224.58,528.38 L225.64,528.27 L226.70,528.17 L227.76,528.06 L228.82,527.95 L229.88,527.84 L230.93,527.73 L231.99,527.62 L233.05,527.50 L234.11,527.39 L235.17,527.28 L236.23,527.16 L237.29,527.04 L238.35,526.92 L239.41,526.80 L240.47,526.68 L241.53,526.55 L242.59,526.42 L243.65,526.29 L244.71,526.15 L245.77,526.01 L246.83,525.86 L247.89,525.71 L248.95,525.56 L250.01,525.40 L251.07,525.24 L252.13,525.08 L253.19,524.91 L254.25,524.73 L255.31,524.55 L256.37,524.37 L257.43,524.18 L258.49,523.98 L259.55,523.78 L260.61,523.57 L261.67,523.36 L262.73,523.14 L263.79,522.91 L264.85,522.68 L265.91,522.44 L266.97,522.19 L268.03,521.93 L269.09,521.65 L270.15,521.37 L271.21,521.07 L272.27,520.76 L273.33,520.43 L274.39,520.09 L275.45,519.73 L276.51,519.36 L277.57,518.97 L278.63,518.56 L279.69,518.13 L280.75,517.68 L281.81,517.21 L282.87,516.72 L283.93,516.21 L284.99,515.67 L286.05,515.10 L287.11,514.48 L288.17,513.83 L289.23,513.14 L290.29,512.41 L291.35,511.63 L292.41,510.80 L293.47,509.94 L294.53,509.02 L295.59,508.06 L296.65,507.06 L297.71,506.01 L298.77,504.91 L299.83,503.77 L300.89,502.57 L301.95,501.32 L303.01,500.02 L304.07,498.68 L305.13,497.30 L306.19,495.87 L307.25,494.37 L308.31,492.81 L309.37,491.20 L310.43,489.56 L311.49,487.88 L312.55,486.19 L313.61,484.49 L314.67,482.80 L315.72,481.09 L316.78,479.35 L317.84,477.60 L318.90,475.82 L319.96,474.04 L321.02,472.26 L322.08,470.47 L323.14,468.70 L324.20,466.94 L325.26,465.16 L326.32,463.36 L327.38,461.55 L328.44,459.71 L329.50,457.85 L330.56,455.97 L331.62,454.07 L332.68,452.15 L333.74,450.19 L334.80,448.21 L335.86,446.20 L336.92,444.18 L337.98,442.17 L339.04,440.17 L340.10,438.22 L341.16,436.33 L342.22,434.52 L343.28,432.80 L344.34,431.18 L345.40,429.63 L346.46,428.16 L347.52,426.73 L348.58,425.34 L349.64,423.99 L350.70,422.64 L351.76,421.28 L352.82,419.85 L353.88,418.33 L354.94,416.70 L356.00,414.90 L357.06,412.97 L358.12,411.08 L359.18,409.65 L360.24,408.34 L361.30,407.13 L362.36,406.02 L363.42,405.00 L364.48,404.06 L365.54,403.20 L366.60,402.40 L367.66,401.66 L368.72,400.97 L369.78,400.33 L370.84,399.73 L371.90,399.18 L372.96,398.66 L374.02,398.17 L375.08,397.72 L376.14,397.29 L377.20,396.88 L378.26,396.50 L379.32,396.14 L380.38,395.79 L381.44,395.45 L382.50,395.13 L383.56,394.83 L384.62,394.54 L385.68,394.26 L386.74,394.00 L387.80,393.75 L388.86,393.50 L389.92,393.27 L390.98,393.04 L392.04,392.82 L393.10,392.61 L394.16,392.41 L395.22,392.21 L396.28,392.02 L397.34,391.83 L398.40,391.65 L399.46,391.47 L400.51,391.30 L401.57,391.13 L402.63,390.96 L403.69,390.80 L404.75,390.64 L405.81,390.49 L406.87,390.34 L407.93,390.19 L408.99,390.05 L410.05,389.91 L411.11,389.78 L412.17,389.65 L413.23,389.53 L414.29,389.40 L415.35,389.28 L416.41,389.17 L417.47,389.05 L418.53,388.93 L419.59,388.82 L420.65,388.71 L421.71,388.61 L422.77,388.50 L423.83,388.41 L424.89,388.31 L425.95,388.22 L427.01,388.14 L428.07,388.06 L429.13,387.98 L430.19,387.91 L431.25,387.85 L432.31,387.78 L433.37,387.72 L434.43,387.66 L435.49,387.61 L436.55,387.55 L437.61,387.50 L438.67,387.45 L439.73,387.40 L440.79,387.35 L441.85,387.30 L442.91,387.25 L443.97,387.20 L445.03,387.15 L446.09,387.10 L447.15,387.04 L448.21,386.99 L449.27,386.94 L450.33,386.89 L451.39,386.84 L452.45,386.80 L453.51,386.75 L454.57,386.70 L455.63,386.65 L456.69,386.61 L457.75,386.56 L458.81,386.51 L459.87,386.47 L460.93,386.43 L461.99,386.39 L463.05,386.34 L464.11,386.30 L465.17,386.26 L466.23,386.22 L467.29,386.18 L468.35,386.15 L469.41,386.11 L470.47,386.07 L471.53,386.03 L472.59,386.00 L473.65,385.96 L474.71,385.93 L475.77,385.89 L476.83,385.86 L477.89,385.82 L478.95,385.79 L480.01,385.76 L481.07,385.73 L482.13,385.69 L483.19,385.66 L484.25,385.63 L485.30,385.60 L486.36,385.57 L487.42,385.54 L488.48,385.51 L489.54,385.48 L490.60,385.46 L491.66,385.43 L492.72,385.40 L493.78,385.37 L494.84,385.34 L495.90,385.32 L496.96,385.29 L498.02,385.26 L499.08,385.24 L500.14,385.21 L501.20,385.18 L502.26,385.16 L503.32,385.13 L504.38,385.11 L505.44,385.08 L506.50,385.06 L507.56,385.04 L508.62,385.01 L509.68,384.99 L510.74,384.97 L511.80,384.95 L512.86,384.93 L513.92,384.91 L514.98,384.89 L516.04,384.86 L517.10,384.84 L518.16,384.82 L519.22,384.80 L520.28,384.78 L521.34,384.77 L522.40,384.75 L523.46,384.74 L524.52,384.72 L525.58,384.71 L526.64,384.71 L527.24,384.71" fill="none" stroke="#92ace6" stroke-width="4.2" stroke-linecap="butt" stroke-linejoin="round"/>
<path d="M102.25,531.70 L103.75,531.70 L104.81,531.70 L105.87,531.70 L106.93,531.70 L107.99,531.70 L109.05,531.70 L110.11,531.70 L111.17,531.70 L112.23,531.70 L113.29,531.70 L114.35,531.70 L115.41,531.70 L116.47,531.70 L117.53,531.70 L118.59,531.70 L119.65,531.70 L120.71,531.70 L121.77,531.70 L122.83,531.70 L123.89,531.70 L124.95,531.70 L126.01,531.70 L127.07,531.70 L128.13,531.70 L129.19,531.70 L130.25,531.70 L131.31,531.70 L132.37,531.70 L133.43,531.70 L134.49,531.70 L135.55,531.70 L136.61,531.70 L137.67,531.69 L138.73,531.69 L139.79,531.69 L140.85,531.69 L141.91,531.69 L142.97,531.69 L144.03,531.69 L145.09,531.68 L146.14,531.68 L147.20,531.68 L148.26,531.68 L149.32,531.68 L150.38,531.68 L151.44,531.67 L152.50,531.67 L153.56,531.67 L154.62,531.67 L155.68,531.66 L156.74,531.66 L157.80,531.66 L158.86,531.66 L159.92,531.65 L160.98,531.65 L162.04,531.64 L163.10,531.64 L164.16,531.64 L165.22,531.63 L166.28,531.63 L167.34,531.62 L168.40,531.61 L169.46,531.61 L170.52,531.60 L171.58,531.59 L172.64,531.59 L173.70,531.58 L174.76,531.57 L175.82,531.56 L176.88,531.55 L177.94,531.54 L179.00,531.53 L180.06,531.52 L181.12,531.51 L182.18,531.50 L183.24,531.49 L184.30,531.48 L185.36,531.46 L186.42,531.45 L187.48,531.43 L188.54,531.42 L189.60,531.40 L190.66,531.38 L191.72,531.36 L192.78,531.33 L193.84,531.31 L194.90,531.29 L195.96,531.26 L197.02,531.24 L198.08,531.21 L199.14,531.18 L200.20,531.15 L201.26,531.13 L202.32,531.10 L203.38,531.07 L204.44,531.04 L205.50,531.01 L206.56,530.98 L207.62,530.95 L208.68,530.92 L209.74,530.89 L210.80,530.85 L211.86,530.82 L212.92,530.79 L213.98,530.75 L215.04,530.72 L216.10,530.68 L217.16,530.64 L218.22,530.60 L219.28,530.56 L220.34,530.52 L221.40,530.48 L222.46,530.44 L223.52,530.40 L224.58,530.36 L225.64,530.31 L226.70,530.27 L227.76,530.22 L228.82,530.18 L229.88,530.13 L230.93,530.09 L231.99,530.04 L233.05,529.99 L234.11,529.94 L235.17,529.89 L236.23,529.85 L237.29,529.80 L238.35,529.75 L239.41,529.69 L240.47,529.64 L241.53,529.59 L242.59,529.54 L243.65,529.48 L244.71,529.43 L245.77,529.37 L246.83,529.31 L247.89,529.25 L248.95,529.18 L250.01,529.12 L251.07,529.05 L252.13,528.98 L253.19,528.90 L254.25,528.83 L255.31,528.75 L256.37,528.67 L257.43,528.59 L258.49,528.50 L259.55,528.41 L260.61,528.32 L261.67,528.23 L262.73,528.13 L263.79,528.03 L264.85,527.92 L265.91,527.82 L266.97,527.71 L268.03,527.59 L269.09,527.47 L270.15,527.35 L271.21,527.23 L272.27,527.10 L273.33,526.96 L274.39,526.82 L275.45,526.68 L276.51,526.53 L277.57,526.36 L278.63,526.19 L279.69,526.02 L280.75,525.83 L281.81,525.63 L282.87,525.43 L283.93,525.21 L284.99,524.98 L286.05,524.75 L287.11,524.50 L288.17,524.24 L289.23,523.97 L290.29,523.68 L291.35,523.38 L292.41,523.07 L293.47,522.74 L294.53,522.39 L295.59,522.03 L296.65,521.63 L297.71,521.21 L298.77,520.76 L299.83,520.29 L300.89,519.79 L301.95,519.25 L303.01,518.69 L304.07,518.09 L305.13,517.46 L306.19,516.79 L307.25,516.09 L308.31,515.33 L309.37,514.52 L310.43,513.64 L311.49,512.69 L312.55,511.67 L313.61,510.58 L314.67,509.41 L315.72,508.16 L316.78,506.84 L317.84,505.42 L318.90,503.91 L319.96,502.30 L321.02,500.59 L322.08,498.77 L323.14,496.85 L324.20,494.79 L325.26,492.58 L326.32,490.23 L327.38,487.78 L328.44,485.24 L329.50,482.65 L330.56,479.98 L331.62,477.22 L332.68,474.40 L333.74,471.56 L334.80,468.74 L335.86,465.92 L336.92,463.08 L337.98,460.23 L339.04,457.36 L340.10,454.50 L341.16,451.66 L342.22,448.83 L343.28,446.05 L344.34,443.36 L345.40,440.75 L346.46,438.23 L347.52,435.82 L348.58,433.52 L349.64,431.33 L350.70,429.21 L351.76,427.11 L352.82,424.98 L353.88,422.79 L354.94,420.43 L356.00,417.74 L357.06,414.55 L358.12,411.07 L359.18,408.79 L360.24,406.78 L361.30,405.00 L362.36,403.43 L363.42,402.03 L364.48,400.80 L365.54,399.71 L366.60,398.73 L367.66,397.86 L368.72,397.09 L369.78,396.39 L370.84,395.77 L371.90,395.21 L372.96,394.70 L374.02,394.24 L375.08,393.82 L376.14,393.44 L377.20,393.10 L378.26,392.78 L379.32,392.48 L380.38,392.21 L381.44,391.95 L382.50,391.71 L383.56,391.48 L384.62,391.27 L385.68,391.07 L386.74,390.88 L387.80,390.70 L388.86,390.53 L389.92,390.37 L390.98,390.22 L392.04,390.07 L393.10,389.93 L394.16,389.79 L395.22,389.66 L396.28,389.54 L397.34,389.41 L398.40,389.29 L399.46,389.17 L400.51,389.06 L401.57,388.95 L402.63,388.84 L403.69,388.73 L404.75,388.62 L405.81,388.52 L406.87,388.42 L407.93,388.32 L408.99,388.23 L410.05,388.14 L411.11,388.05 L412.17,387.96 L413.23,387.88 L414.29,387.79 L415.35,387.71 L416.41,387.63 L417.47,387.55 L418.53,387.47 L419.59,387.39 L420.65,387.32 L421.71,387.24 L422.77,387.17 L423.83,387.10 L424.89,387.04 L425.95,386.97 L427.01,386.91 L428.07,386.85 L429.13,386.80 L430.19,386.75 L431.25,386.70 L432.31,386.65 L433.37,386.61 L434.43,386.56 L435.49,386.52 L436.55,386.48 L437.61,386.44 L438.67,386.40 L439.73,386.36 L440.79,386.32 L441.85,386.28 L442.91,386.25 L443.97,386.21 L445.03,386.17 L446.09,386.13 L447.15,386.09 L448.21,386.05 L449.27,386.01 L450.33,385.97 L451.39,385.94 L452.45,385.90 L453.51,385.86 L454.57,385.82 L455.63,385.79 L456.69,385.75 L457.75,385.71 L458.81,385.68 L459.87,385.64 L460.93,385.61 L461.99,385.58 L463.05,385.54 L464.11,385.51 L465.17,385.48 L466.23,385.45 L467.29,385.41 L468.35,385.38 L469.41,385.35 L470.47,385.32 L471.53,385.29 L472.59,385.26 L473.65,385.23 L474.71,385.20 L475.77,385.17 L476.83,385.15 L477.89,385.12 L478.95,385.09 L480.01,385.06 L481.07,385.04 L482.13,385.01 L483.19,384.98 L484.25,384.96 L485.30,384.93 L486.36,384.90 L487.42,384.88 L488.48,384.85 L489.54,384.83 L490.60,384.80 L491.66,384.78 L492.72,384.76 L493.78,384.73 L494.84,384.71 L495.90,384.68 L496.96,384.66 L498.02,384.64 L499.08,384.61 L500.14,384.59 L501.20,384.57 L502.26,384.54 L503.32,384.52 L504.38,384.50 L505.44,384.48 L506.50,384.45 L507.56,384.43 L508.62,384.41 L509.68,384.39 L510.74,384.37 L511.80,384.35 L512.86,384.33 L513.92,384.31 L514.98,384.29 L516.04,384.27 L517.10,384.25 L518.16,384.23 L519.22,384.21 L520.28,384.20 L521.34,384.18 L522.40,384.16 L523.46,384.15 L524.52,384.13 L525.58,384.12 L526.64,384.11 L527.24,384.11" fill="none" stroke="#6e90dd" stroke-width="4.2" stroke-linecap="butt" stroke-linejoin="round"/>
<path d="M102.25,531.66 L103.75,531.66 L104.81,531.66 L105.87,531.67 L106.93,531.67 L107.99,531.68 L109.05,531.68 L110.11,531.69 L111.17,531.69 L112.23,531.70 L113.29,531.70 L114.35,531.70 L115.41,531.71 L116.47,531.71 L117.53,531.72 L118.59,531.72 L119.65,531.72 L120.71,531.72 L121.77,531.73 L122.83,531.73 L123.89,531.73 L124.95,531.74 L126.01,531.74 L127.07,531.74 L128.13,531.74 L129.19,531.74 L130.25,531.74 L131.31,531.75 L132.37,531.75 L133.43,531.75 L134.49,531.75 L135.55,531.75 L136.61,531.75 L137.67,531.75 L138.73,531.75 L139.79,531.75 L140.85,531.75 L141.91,531.75 L142.97,531.75 L144.03,531.75 L145.09,531.75 L146.14,531.75 L147.20,531.75 L148.26,531.75 L149.32,531.75 L150.38,531.75 L151.44,531.75 L152.50,531.75 L153.56,531.74 L154.62,531.74 L155.68,531.74 L156.74,531.74 L157.80,531.74 L158.86,531.73 L159.92,531.73 L160.98,531.73 L162.04,531.73 L163.10,531.72 L164.16,531.72 L165.22,531.72 L166.28,531.72 L167.34,531.71 L168.40,531.71 L169.46,531.70 L170.52,531.70 L171.58,531.70 L172.64,531.69 L173.70,531.69 L174.76,531.68 L175.82,531.68 L176.88,531.68 L177.94,531.67 L179.00,531.66 L180.06,531.66 L181.12,531.65 L182.18,531.65 L183.24,531.64 L184.30,531.63 L185.36,531.62 L186.42,531.62 L187.48,531.61 L188.54,531.60 L189.60,531.59 L190.66,531.58 L191.72,531.57 L192.78,531.56 L193.84,531.56 L194.90,531.55 L195.96,531.53 L197.02,531.52 L198.08,531.51 L199.14,531.50 L200.20,531.49 L201.26,531.48 L202.32,531.47 L203.38,531.46 L204.44,531.45 L205.50,531.43 L206.56,531.42 L207.62,531.41 L208.68,531.39 L209.74,531.38 L210.80,531.36 L211.86,531.35 L212.92,531.33 L213.98,531.31 L215.04,531.30 L216.10,531.28 L217.16,531.26 L218.22,531.24 L219.28,531.22 L220.34,531.20 L221.40,531.18 L222.46,531.16 L223.52,531.14 L224.58,531.12 L225.64,531.10 L226.70,531.08 L227.76,531.05 L228.82,531.03 L229.88,531.01 L230.93,530.99 L231.99,530.97 L233.05,530.94 L234.11,530.92 L235.17,530.90 L236.23,530.87 L237.29,530.85 L238.35,530.82 L239.41,530.80 L240.47,530.78 L241.53,530.75 L242.59,530.73 L243.65,530.70 L244.71,530.68 L245.77,530.65 L246.83,530.62 L247.89,530.59 L248.95,530.56 L250.01,530.53 L251.07,530.50 L252.13,530.47 L253.19,530.43 L254.25,530.40 L255.31,530.36 L256.37,530.33 L257.43,530.29 L258.49,530.25 L259.55,530.21 L260.61,530.17 L261.67,530.12 L262.73,530.08 L263.79,530.03 L264.85,529.99 L265.91,529.94 L266.97,529.89 L268.03,529.83 L269.09,529.78 L270.15,529.72 L271.21,529.67 L272.27,529.61 L273.33,529.55 L274.39,529.48 L275.45,529.42 L276.51,529.35 L277.57,529.28 L278.63,529.21 L279.69,529.13 L280.75,529.05 L281.81,528.96 L282.87,528.87 L283.93,528.78 L284.99,528.67 L286.05,528.57 L287.11,528.46 L288.17,528.34 L289.23,528.22 L290.29,528.09 L291.35,527.95 L292.41,527.81 L293.47,527.66 L294.53,527.50 L295.59,527.34 L296.65,527.17 L297.71,526.99 L298.77,526.80 L299.83,526.61 L300.89,526.40 L301.95,526.18 L303.01,525.94 L304.07,525.69 L305.13,525.43 L306.19,525.15 L307.25,524.85 L308.31,524.54 L309.37,524.21 L310.43,523.86 L311.49,523.49 L312.55,523.10 L313.61,522.69 L314.67,522.25 L315.72,521.77 L316.78,521.25 L317.84,520.68 L318.90,520.05 L319.96,519.37 L321.02,518.63 L322.08,517.83 L323.14,516.95 L324.20,515.99 L325.26,514.91 L326.32,513.69 L327.38,512.31 L328.44,510.73 L329.50,508.95 L330.56,506.96 L331.62,504.73 L332.68,502.24 L333.74,499.48 L334.80,496.45 L335.86,493.09 L336.92,489.39 L337.98,485.49 L339.04,481.50 L340.10,477.39 L341.16,473.25 L342.22,469.21 L343.28,465.33 L344.34,461.55 L345.40,457.83 L346.46,454.17 L347.52,450.54 L348.58,446.91 L349.64,443.31 L350.70,439.75 L351.76,436.21 L352.82,432.72 L353.88,429.27 L354.94,425.71 L356.00,421.86 L357.06,417.16 L358.12,411.04 L359.18,407.44 L360.24,404.43 L361.30,401.91 L362.36,399.80 L363.42,398.03 L364.48,396.54 L365.54,395.29 L366.60,394.24 L367.66,393.35 L368.72,392.60 L369.78,391.96 L370.84,391.41 L371.90,390.95 L372.96,390.55 L374.02,390.21 L375.08,389.91 L376.14,389.65 L377.20,389.43 L378.26,389.23 L379.32,389.05 L380.38,388.90 L381.44,388.74 L382.50,388.60 L383.56,388.47 L384.62,388.35 L385.68,388.24 L386.74,388.13 L387.80,388.04 L388.86,387.94 L389.92,387.86 L390.98,387.77 L392.04,387.69 L393.10,387.61 L394.16,387.54 L395.22,387.46 L396.28,387.39 L397.34,387.32 L398.40,387.25 L399.46,387.18 L400.51,387.12 L401.57,387.05 L402.63,386.99 L403.69,386.92 L404.75,386.86 L405.81,386.80 L406.87,386.74 L407.93,386.68 L408.99,386.62 L410.05,386.56 L411.11,386.51 L412.17,386.45 L413.23,386.40 L414.29,386.35 L415.35,386.29 L416.41,386.24 L417.47,386.19 L418.53,386.14 L419.59,386.09 L420.65,386.04 L421.71,385.99 L422.77,385.94 L423.83,385.90 L424.89,385.85 L425.95,385.81 L427.01,385.77 L428.07,385.73 L429.13,385.69 L430.19,385.65 L431.25,385.62 L432.31,385.58 L433.37,385.55 L434.43,385.52 L435.49,385.48 L436.55,385.45 L437.61,385.42 L438.67,385.39 L439.73,385.36 L440.79,385.33 L441.85,385.30 L442.91,385.27 L443.97,385.24 L445.03,385.21 L446.09,385.18 L447.15,385.15 L448.21,385.12 L449.27,385.09 L450.33,385.06 L451.39,385.03 L452.45,385.00 L453.51,384.97 L454.57,384.94 L455.63,384.91 L456.69,384.88 L457.75,384.85 L458.81,384.82 L459.87,384.79 L460.93,384.77 L461.99,384.74 L463.05,384.71 L464.11,384.68 L465.17,384.66 L466.23,384.63 L467.29,384.60 L468.35,384.58 L469.41,384.55 L470.47,384.53 L471.53,384.50 L472.59,384.47 L473.65,384.45 L474.71,384.42 L475.77,384.40 L476.83,384.37 L477.89,384.35 L478.95,384.33 L480.01,384.30 L481.07,384.28 L482.13,384.25 L483.19,384.23 L484.25,384.21 L485.30,384.18 L486.36,384.16 L487.42,384.14 L488.48,384.11 L489.54,384.09 L490.60,384.07 L491.66,384.04 L492.72,384.02 L493.78,384.00 L494.84,383.98 L495.90,383.95 L496.96,383.93 L498.02,383.91 L499.08,383.89 L500.14,383.86 L501.20,383.84 L502.26,383.82 L503.32,383.80 L504.38,383.78 L505.44,383.76 L506.50,383.73 L507.56,383.71 L508.62,383.69 L509.68,383.67 L510.74,383.65 L511.80,383.63 L512.86,383.61 L513.92,383.59 L514.98,383.57 L516.04,383.55 L517.10,383.53 L518.16,383.51 L519.22,383.49 L520.28,383.47 L521.34,383.45 L522.40,383.43 L523.46,383.41 L524.52,383.40 L525.58,383.38 L526.64,383.36 L527.24,383.36" fill="none" stroke="#4a75d4" stroke-width="4.2" stroke-linecap="butt" stroke-linejoin="round"/>
<path d="M102.25,531.68 L103.75,531.68 L104.81,531.68 L105.87,531.68 L106.93,531.69 L107.99,531.69 L109.05,531.70 L110.11,531.70 L111.17,531.70 L112.23,531.71 L113.29,531.71 L114.35,531.71 L115.41,531.71 L116.47,531.72 L117.53,531.72 L118.59,531.72 L119.65,531.72 L120.71,531.73 L121.77,531.73 L122.83,531.73 L123.89,531.73 L124.95,531.73 L126.01,531.74 L127.07,531.74 L128.13,531.74 L129.19,531.74 L130.25,531.74 L131.31,531.74 L132.37,531.74 L133.43,531.74 L134.49,531.74 L135.55,531.74 L136.61,531.75 L137.67,531.75 L138.73,531.75 L139.79,531.75 L140.85,531.75 L141.91,531.75 L142.97,531.74 L144.03,531.74 L145.09,531.74 L146.14,531.74 L147.20,531.74 L148.26,531.74 L149.32,531.74 L150.38,531.74 L151.44,531.74 L152.50,531.74 L153.56,531.74 L154.62,531.73 L155.68,531.73 L156.74,531.73 L157.80,531.73 L158.86,531.73 L159.92,531.73 L160.98,531.72 L162.04,531.72 L163.10,531.72 L164.16,531.72 L165.22,531.71 L166.28,531.71 L167.34,531.71 L168.40,531.71 L169.46,531.70 L170.52,531.70 L171.58,531.70 L172.64,531.69 L173.70,531.69 L174.76,531.69 L175.82,531.68 L176.88,531.68 L177.94,531.68 L179.00,531.67 L180.06,531.67 L181.12,531.66 L182.18,531.66 L183.24,531.66 L184.30,531.65 L185.36,531.65 L186.42,531.64 L187.48,531.64 L188.54,531.63 L189.60,531.63 L190.66,531.63 L191.72,531.62 L192.78,531.62 L193.84,531.61 L194.90,531.61 L195.96,531.60 L197.02,531.59 L198.08,531.59 L199.14,531.58 L200.20,531.58 L201.26,531.57 L202.32,531.57 L203.38,531.56 L204.44,531.55 L205.50,531.55 L206.56,531.54 L207.62,531.53 L208.68,531.52 L209.74,531.52 L210.80,531.51 L211.86,531.50 L212.92,531.49 L213.98,531.49 L215.04,531.48 L216.10,531.47 L217.16,531.46 L218.22,531.46 L219.28,531.45 L220.34,531.44 L221.40,531.43 L222.46,531.42 L223.52,531.41 L224.58,531.41 L225.64,531.40 L226.70,531.39 L227.76,531.38 L228.82,531.37 L229.88,531.36 L230.93,531.35 L231.99,531.35 L233.05,531.34 L234.11,531.33 L235.17,531.32 L236.23,531.31 L237.29,531.30 L238.35,531.29 L239.41,531.28 L240.47,531.27 L241.53,531.26 L242.59,531.25 L243.65,531.24 L244.71,531.23 L245.77,531.21 L246.83,531.20 L247.89,531.19 L248.95,531.17 L250.01,531.16 L251.07,531.15 L252.13,531.13 L253.19,531.12 L254.25,531.10 L255.31,531.09 L256.37,531.07 L257.43,531.05 L258.49,531.03 L259.55,531.02 L260.61,531.00 L261.67,530.98 L262.73,530.96 L263.79,530.94 L264.85,530.92 L265.91,530.90 L266.97,530.88 L268.03,530.85 L269.09,530.83 L270.15,530.81 L271.21,530.78 L272.27,530.76 L273.33,530.73 L274.39,530.70 L275.45,530.68 L276.51,530.65 L277.57,530.62 L278.63,530.59 L279.69,530.56 L280.75,530.52 L281.81,530.48 L282.87,530.45 L283.93,530.41 L284.99,530.36 L286.05,530.32 L287.11,530.27 L288.17,530.22 L289.23,530.17 L290.29,530.11 L291.35,530.05 L292.41,529.99 L293.47,529.93 L294.53,529.86 L295.59,529.79 L296.65,529.71 L297.71,529.63 L298.77,529.55 L299.83,529.46 L300.89,529.37 L301.95,529.28 L303.01,529.18 L304.07,529.08 L305.13,528.96 L306.19,528.84 L307.25,528.71 L308.31,528.57 L309.37,528.43 L310.43,528.27 L311.49,528.11 L312.55,527.93 L313.61,527.74 L314.67,527.55 L315.72,527.33 L316.78,527.11 L317.84,526.87 L318.90,526.62 L319.96,526.34 L321.02,526.03 L322.08,525.70 L323.14,525.33 L324.20,524.92 L325.26,524.48 L326.32,523.99 L327.38,523.45 L328.44,522.86 L329.50,522.18 L330.56,521.41 L331.62,520.50 L332.68,519.46 L333.74,518.26 L334.80,516.88 L335.86,515.28 L336.92,513.35 L337.98,511.02 L339.04,508.25 L340.10,505.02 L341.16,501.30 L342.22,497.14 L343.28,492.50 L344.34,487.48 L345.40,482.33 L346.46,477.07 L347.52,471.78 L348.58,466.65 L349.64,461.61 L350.70,456.50 L351.76,451.25 L352.82,445.71 L353.88,439.93 L354.94,433.97 L356.00,427.90 L357.06,421.06 L358.12,411.00 L359.18,405.36 L360.24,400.98 L361.30,397.57 L362.36,394.92 L363.42,392.86 L364.48,391.26 L365.54,390.01 L366.60,389.03 L367.66,388.28 L368.72,387.68 L369.78,387.22 L370.84,386.86 L371.90,386.58 L372.96,386.36 L374.02,386.19 L375.08,386.05 L376.14,385.95 L377.20,385.86 L378.26,385.80 L379.32,385.74 L380.38,385.70 L381.44,385.65 L382.50,385.60 L383.56,385.55 L384.62,385.52 L385.68,385.48 L386.74,385.45 L387.80,385.42 L388.86,385.39 L389.92,385.36 L390.98,385.33 L392.04,385.31 L393.10,385.28 L394.16,385.25 L395.22,385.23 L396.28,385.20 L397.34,385.18 L398.40,385.16 L399.46,385.13 L400.51,385.11 L401.57,385.08 L402.63,385.06 L403.69,385.03 L404.75,385.01 L405.81,384.99 L406.87,384.96 L407.93,384.94 L408.99,384.92 L410.05,384.89 L411.11,384.87 L412.17,384.85 L413.23,384.82 L414.29,384.80 L415.35,384.78 L416.41,384.75 L417.47,384.73 L418.53,384.71 L419.59,384.68 L420.65,384.66 L421.71,384.64 L422.77,384.61 L423.83,384.59 L424.89,384.57 L425.95,384.54 L427.01,384.52 L428.07,384.50 L429.13,384.48 L430.19,384.45 L431.25,384.43 L432.31,384.41 L433.37,384.39 L434.43,384.37 L435.49,384.34 L436.55,384.32 L437.61,384.30 L438.67,384.28 L439.73,384.26 L440.79,384.23 L441.85,384.21 L442.91,384.19 L443.97,384.17 L445.03,384.14 L446.09,384.12 L447.15,384.10 L448.21,384.08 L449.27,384.06 L450.33,384.03 L451.39,384.01 L452.45,383.99 L453.51,383.97 L454.57,383.95 L455.63,383.92 L456.69,383.90 L457.75,383.88 L458.81,383.86 L459.87,383.84 L460.93,383.81 L461.99,383.79 L463.05,383.77 L464.11,383.75 L465.17,383.73 L466.23,383.71 L467.29,383.68 L468.35,383.66 L469.41,383.64 L470.47,383.62 L471.53,383.60 L472.59,383.57 L473.65,383.55 L474.71,383.53 L475.77,383.51 L476.83,383.49 L477.89,383.47 L478.95,383.44 L480.01,383.42 L481.07,383.40 L482.13,383.38 L483.19,383.36 L484.25,383.34 L485.30,383.31 L486.36,383.29 L487.42,383.27 L488.48,383.25 L489.54,383.23 L490.60,383.21 L491.66,383.18 L492.72,383.16 L493.78,383.14 L494.84,383.12 L495.90,383.10 L496.96,383.08 L498.02,383.05 L499.08,383.03 L500.14,383.01 L501.20,382.99 L502.26,382.97 L503.32,382.95 L504.38,382.93 L505.44,382.90 L506.50,382.88 L507.56,382.86 L508.62,382.84 L509.68,382.82 L510.74,382.80 L511.80,382.77 L512.86,382.75 L513.92,382.73 L514.98,382.71 L516.04,382.69 L517.10,382.67 L518.16,382.65 L519.22,382.62 L520.28,382.60 L521.34,382.58 L522.40,382.56 L523.46,382.54 L524.52,382.52 L525.58,382.50 L526.64,382.47 L527.24,382.47" fill="none" stroke="#2659cc" stroke-width="4.2" stroke-linecap="butt" stroke-linejoin="round"/>
<path d="M102.45,385.40 H527.14 M102.45,531.70 H527.14" stroke="#000" stroke-opacity="0.4" stroke-width="2.7" fill="none"/>
<path d="M358.07,372.10 V545.00" stroke="#000" stroke-opacity="0.4" stroke-width="2.7" fill="none"/>
<path d="M352.45,378.40 V545.00" stroke="#000" stroke-opacity="0.5" stroke-width="2.5" stroke-dasharray="9.7 10" fill="none"/>
<path d="M103.75,370.80 v4.9 M103.75,546.30 v-4.9 M120.02,370.80 v3.2 M120.02,546.30 v-3.2 M136.28,370.80 v3.2 M136.28,546.30 v-3.2 M152.55,370.80 v3.2 M152.55,546.30 v-3.2 M168.81,370.80 v4.9 M168.81,546.30 v-4.9 M185.07,370.80 v3.2 M185.07,546.30 v-3.2 M201.34,370.80 v3.2 M201.34,546.30 v-3.2 M217.61,370.80 v3.2 M217.61,546.30 v-3.2 M233.87,370.80 v4.9 M233.87,546.30 v-4.9 M250.14,370.80 v3.2 M250.14,546.30 v-3.2 M266.40,370.80 v3.2 M266.40,546.30 v-3.2 M282.67,370.80 v3.2 M282.67,546.30 v-3.2 M298.93,370.80 v4.9 M298.93,546.30 v-4.9 M315.20,370.80 v3.2 M315.20,546.30 v-3.2 M331.46,370.80 v3.2 M331.46,546.30 v-3.2 M347.73,370.80 v3.2 M347.73,546.30 v-3.2 M363.99,370.80 v4.9 M363.99,546.30 v-4.9 M380.26,370.80 v3.2 M380.26,546.30 v-3.2 M396.52,370.80 v3.2 M396.52,546.30 v-3.2 M412.79,370.80 v3.2 M412.79,546.30 v-3.2 M429.05,370.80 v4.9 M429.05,546.30 v-4.9 M445.32,370.80 v3.2 M445.32,546.30 v-3.2 M461.58,370.80 v3.2 M461.58,546.30 v-3.2 M477.85,370.80 v3.2 M477.85,546.30 v-3.2 M494.11,370.80 v4.9 M494.11,546.30 v-4.9 M510.38,370.80 v3.2 M510.38,546.30 v-3.2 M526.64,370.80 v3.2 M526.64,546.30 v-3.2 M95.15,539.02 h3.2 M533.65,539.02 h-3.2 M95.15,531.70 h4.9 M533.65,531.70 h-4.9 M95.15,524.38 h3.2 M533.65,524.38 h-3.2 M95.15,517.07 h3.2 M533.65,517.07 h-3.2 M95.15,509.76 h3.2 M533.65,509.76 h-3.2 M95.15,502.44 h4.9 M533.65,502.44 h-4.9 M95.15,495.13 h3.2 M533.65,495.13 h-3.2 M95.15,487.81 h3.2 M533.65,487.81 h-3.2 M95.15,480.50 h3.2 M533.65,480.50 h-3.2 M95.15,473.18 h4.9 M533.65,473.18 h-4.9 M95.15,465.87 h3.2 M533.65,465.87 h-3.2 M95.15,458.55 h3.2 M533.65,458.55 h-3.2 M95.15,451.24 h3.2 M533.65,451.24 h-3.2 M95.15,443.92 h4.9 M533.65,443.92 h-4.9 M95.15,436.61 h3.2 M533.65,436.61 h-3.2 M95.15,429.29 h3.2 M533.65,429.29 h-3.2 M95.15,421.98 h3.2 M533.65,421.98 h-3.2 M95.15,414.66 h4.9 M533.65,414.66 h-4.9 M95.15,407.35 h3.2 M533.65,407.35 h-3.2 M95.15,400.03 h3.2 M533.65,400.03 h-3.2 M95.15,392.72 h3.2 M533.65,392.72 h-3.2 M95.15,385.40 h4.9 M533.65,385.40 h-4.9 M95.15,378.09 h3.2 M533.65,378.09 h-3.2" stroke="#000" stroke-width="2.1" fill="none"/>
<rect x="95.15" y="370.8" width="438.50" height="175.5" fill="none" stroke="#000" stroke-width="2.65"/>
<text transform="translate(89.20,538.00) scale(1.06,1)" text-anchor="end" class="tk">1.0</text>
<text transform="translate(89.20,508.74) scale(1.06,1)" text-anchor="end" class="tk">1.2</text>
<text transform="translate(89.20,479.48) scale(1.06,1)" text-anchor="end" class="tk">1.4</text>
<text transform="translate(89.20,450.22) scale(1.06,1)" text-anchor="end" class="tk">1.6</text>
<text transform="translate(89.20,420.96) scale(1.06,1)" text-anchor="end" class="tk">1.8</text>
<text transform="translate(89.20,391.70) scale(1.06,1)" text-anchor="end" class="tk">2.0</text>
<text transform="translate(23.1,455.95) rotate(-90) scale(1.13,1)" text-anchor="middle" class="ax">Z</text>
<text transform="translate(104.1,402.30)" font-size="30" class="pl">(</text><text transform="translate(113.6,402.70) scale(0.96,1)" font-size="35.5" class="pl">c</text><text transform="translate(127.8,402.30)" font-size="30" class="pl">)</text>
</g>
<text transform="translate(103.75,581.00) scale(1.05,1)" text-anchor="middle" class="tk">0.0</text>
<text transform="translate(168.81,581.00) scale(1.05,1)" text-anchor="middle" class="tk">0.2</text>
<text transform="translate(233.87,581.00) scale(1.05,1)" text-anchor="middle" class="tk">0.4</text>
<text transform="translate(298.93,581.00) scale(1.05,1)" text-anchor="middle" class="tk">0.6</text>
<text transform="translate(363.99,581.00) scale(1.05,1)" text-anchor="middle" class="tk">0.8</text>
<text transform="translate(429.05,581.00) scale(1.05,1)" text-anchor="middle" class="tk">1.0</text>
<text transform="translate(494.11,581.00) scale(1.05,1)" text-anchor="middle" class="tk">1.2</text>
<text transform="translate(299.60,615.50) scale(1.05,1)" class="ax">J</text><text transform="translate(316.40,622.30) scale(0.9,1)" class="sub0">0</text>
<text transform="translate(490.30,159.80) scale(0.905,1)" fill="#cc3300" class="si">A</text><text transform="translate(510.80,165.70) scale(0.83,1)" fill="#cc3300" class="ss">1</text>
<text transform="translate(432.00,344.20) scale(0.905,1)" fill="#00991a" class="si">A</text><text transform="translate(452.00,350.10) scale(0.83,1)" fill="#00991a" class="ss">1</text><text transform="translate(503.00,344.20) scale(0.885,1)" fill="#00991a" class="si">E</text>
<g stroke="#00991a" stroke-width="2" fill="none"><circle cx="483.3" cy="336.2" r="10.3"/><path d="M473.0,336.2 h20.6 M483.3,325.9 v20.6"/></g>
<text transform="translate(403.80,528.90) scale(0.95,1)" fill="#2659cc" class="sr">2</text><text transform="translate(432.50,528.90) scale(0.905,1)" fill="#2659cc" class="si">A</text><text transform="translate(451.60,534.80) scale(0.83,1)" fill="#2659cc" class="ss">1</text><text transform="translate(503.10,528.90) scale(0.885,1)" fill="#2659cc" class="si">E</text>
<g stroke="#2659cc" stroke-width="2" fill="none"><circle cx="483.5" cy="521.1" r="10.3"/><path d="M473.2,521.1 h20.6 M483.5,510.8 v20.6"/></g>
<text transform="translate(594.50,204.50) scale(1.0,1)" text-anchor="middle" class="ell">ℓ</text>
<path d="M569.5,233.40 H600.8" stroke="rgb(212,212,212)" stroke-width="3.6" stroke-linecap="round"/>
<text transform="translate(604.40,242.30) scale(1.04,1)" class="tk">0</text>
<path d="M569.5,262.95 H600.8" stroke="rgb(170,170,170)" stroke-width="3.6" stroke-linecap="round"/>
<text transform="translate(604.40,271.85) scale(1.04,1)" class="tk">1</text>
<path d="M569.5,292.50 H600.8" stroke="rgb(128,128,128)" stroke-width="3.6" stroke-linecap="round"/>
<text transform="translate(604.40,301.40) scale(1.04,1)" class="tk">2</text>
<path d="M569.5,322.05 H600.8" stroke="rgb(85,85,85)" stroke-width="3.6" stroke-linecap="round"/>
<text transform="translate(604.40,330.95) scale(1.04,1)" class="tk">3</text>
<path d="M569.5,351.60 H600.8" stroke="rgb(42,42,42)" stroke-width="3.6" stroke-linecap="round"/>
<text transform="translate(604.40,360.50) scale(1.04,1)" class="tk">4</text>
<path d="M569.5,381.15 H600.8" stroke="rgb(0,0,0)" stroke-width="3.6" stroke-linecap="round"/>
<text transform="translate(604.40,390.05) scale(1.04,1)" class="tk">5</text>
</svg>
</body></html>
